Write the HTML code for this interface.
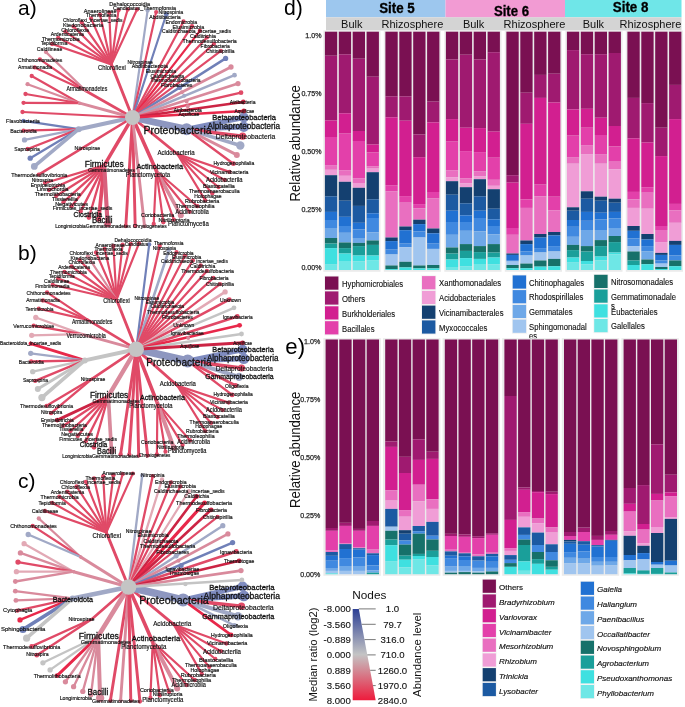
<!DOCTYPE html><html><head><meta charset="utf-8"><style>html,body{margin:0;padding:0;background:#fff;}svg{display:block;will-change:transform;}text{-webkit-font-smoothing:antialiased;}</style></head><body>
<svg width="685" height="707" viewBox="0 0 685 707" style="font-family:'Liberation Sans', sans-serif">
<rect x="0" y="0" width="685" height="707" fill="#ffffff"/>
<rect x="326" y="0" width="119.5" height="17.3" fill="#9dc7ee"/>
<rect x="445.5" y="0" width="119.5" height="17.5" fill="#f29bd3"/>
<rect x="565" y="0" width="116.5" height="17.3" fill="#6fe6e8"/>
<text x="397.0" y="12.9" font-size="13.8" text-anchor="middle" font-weight="bold" font-style="normal" fill="#000" textLength="35.6" lengthAdjust="spacingAndGlyphs" stroke="#000" stroke-width="0.3">Site 5</text>
<text x="511.5" y="15.6" font-size="13.8" text-anchor="middle" font-weight="bold" font-style="normal" fill="#000" textLength="35.1" lengthAdjust="spacingAndGlyphs" stroke="#000" stroke-width="0.3">Site 6</text>
<text x="630.6" y="12.3" font-size="13.8" text-anchor="middle" font-weight="bold" font-style="normal" fill="#000" textLength="35.6" lengthAdjust="spacingAndGlyphs" stroke="#000" stroke-width="0.3">Site 8</text>
<rect x="326" y="17.3" width="355.5" height="13.2" fill="#d4d4d4"/>
<text x="351.8" y="28.2" font-size="11.0" text-anchor="middle" font-weight="normal" font-style="normal" fill="#111" >Bulk</text>
<text x="412.4" y="28.2" font-size="11.0" text-anchor="middle" font-weight="normal" font-style="normal" fill="#111" >Rhizosphere</text>
<text x="473.6" y="28.2" font-size="11.0" text-anchor="middle" font-weight="normal" font-style="normal" fill="#111" >Bulk</text>
<text x="534.5" y="28.2" font-size="11.0" text-anchor="middle" font-weight="normal" font-style="normal" fill="#111" >Rhizosphere</text>
<text x="593.4" y="28.2" font-size="11.0" text-anchor="middle" font-weight="normal" font-style="normal" fill="#111" >Bulk</text>
<text x="650.5" y="28.2" font-size="11.0" text-anchor="middle" font-weight="normal" font-style="normal" fill="#111" >Rhizosphere</text>
<rect x="323.30" y="30.50" width="57.20" height="241.30" fill="#ebebeb"/>
<rect x="324.90" y="31.70" width="12.30" height="24.00" fill="#7a1052"/>
<rect x="324.90" y="55.70" width="12.30" height="64.80" fill="#9f1a70"/>
<rect x="324.90" y="120.50" width="12.30" height="16.50" fill="#d21f90"/>
<rect x="324.90" y="137.00" width="12.30" height="28.10" fill="#e340aa"/>
<rect x="324.90" y="165.10" width="12.30" height="4.70" fill="#e96fc0"/>
<rect x="324.90" y="169.80" width="12.30" height="5.40" fill="#f09dd6"/>
<rect x="324.90" y="175.20" width="12.30" height="21.10" fill="#144070"/>
<rect x="324.90" y="196.30" width="12.30" height="15.60" fill="#1c5aa2"/>
<rect x="324.90" y="211.90" width="12.30" height="8.10" fill="#2171d2"/>
<rect x="324.90" y="220.00" width="12.30" height="8.00" fill="#4089e0"/>
<rect x="324.90" y="228.00" width="12.30" height="10.00" fill="#6ea8e8"/>
<rect x="324.90" y="238.00" width="12.30" height="5.50" fill="#16716a"/>
<rect x="324.90" y="243.50" width="12.30" height="4.60" fill="#1a9f9a"/>
<rect x="324.90" y="248.10" width="12.30" height="16.50" fill="#3fe0e0"/>
<rect x="324.90" y="264.60" width="12.30" height="5.40" fill="#6ee7e6"/>
<rect x="338.80" y="31.70" width="12.30" height="22.60" fill="#7a1052"/>
<rect x="338.80" y="54.30" width="12.30" height="59.00" fill="#9f1a70"/>
<rect x="338.80" y="113.30" width="12.30" height="20.30" fill="#d21f90"/>
<rect x="338.80" y="133.60" width="12.30" height="36.60" fill="#e340aa"/>
<rect x="338.80" y="170.20" width="12.30" height="5.60" fill="#e96fc0"/>
<rect x="338.80" y="175.80" width="12.30" height="6.00" fill="#f09dd6"/>
<rect x="338.80" y="181.80" width="12.30" height="18.90" fill="#144070"/>
<rect x="338.80" y="200.70" width="12.30" height="16.10" fill="#1c5aa2"/>
<rect x="338.80" y="216.80" width="12.30" height="9.20" fill="#2171d2"/>
<rect x="338.80" y="226.00" width="12.30" height="6.80" fill="#4089e0"/>
<rect x="338.80" y="232.80" width="12.30" height="9.70" fill="#6ea8e8"/>
<rect x="338.80" y="242.50" width="12.30" height="5.60" fill="#16716a"/>
<rect x="338.80" y="248.10" width="12.30" height="5.40" fill="#1a9f9a"/>
<rect x="338.80" y="253.50" width="12.30" height="7.50" fill="#3fe0e0"/>
<rect x="338.80" y="261.00" width="12.30" height="9.00" fill="#6ee7e6"/>
<rect x="352.70" y="31.70" width="12.30" height="27.00" fill="#7a1052"/>
<rect x="352.70" y="58.70" width="12.30" height="72.30" fill="#9f1a70"/>
<rect x="352.70" y="131.00" width="12.30" height="10.00" fill="#d21f90"/>
<rect x="352.70" y="141.00" width="12.30" height="37.20" fill="#e340aa"/>
<rect x="352.70" y="178.20" width="12.30" height="4.80" fill="#e96fc0"/>
<rect x="352.70" y="183.00" width="12.30" height="4.80" fill="#f09dd6"/>
<rect x="352.70" y="187.80" width="12.30" height="18.10" fill="#144070"/>
<rect x="352.70" y="205.90" width="12.30" height="16.90" fill="#1c5aa2"/>
<rect x="352.70" y="222.80" width="12.30" height="6.60" fill="#2171d2"/>
<rect x="352.70" y="229.40" width="12.30" height="8.60" fill="#4089e0"/>
<rect x="352.70" y="238.00" width="12.30" height="4.90" fill="#6ea8e8"/>
<rect x="352.70" y="242.90" width="12.30" height="3.20" fill="#16716a"/>
<rect x="352.70" y="246.10" width="12.30" height="9.40" fill="#1a9f9a"/>
<rect x="352.70" y="255.50" width="12.30" height="6.00" fill="#3fe0e0"/>
<rect x="352.70" y="261.50" width="12.30" height="8.50" fill="#6ee7e6"/>
<rect x="366.60" y="31.70" width="12.30" height="45.00" fill="#7a1052"/>
<rect x="366.60" y="76.70" width="12.30" height="67.80" fill="#9f1a70"/>
<rect x="366.60" y="144.50" width="12.30" height="8.00" fill="#d21f90"/>
<rect x="366.60" y="152.50" width="12.30" height="13.70" fill="#e340aa"/>
<rect x="366.60" y="166.20" width="12.30" height="2.40" fill="#e96fc0"/>
<rect x="366.60" y="168.60" width="12.30" height="3.60" fill="#f09dd6"/>
<rect x="366.60" y="172.20" width="12.30" height="27.10" fill="#144070"/>
<rect x="366.60" y="199.30" width="12.30" height="14.00" fill="#1c5aa2"/>
<rect x="366.60" y="213.30" width="12.30" height="4.70" fill="#2171d2"/>
<rect x="366.60" y="218.00" width="12.30" height="14.40" fill="#4089e0"/>
<rect x="366.60" y="232.40" width="12.30" height="8.10" fill="#6ea8e8"/>
<rect x="366.60" y="240.50" width="12.30" height="4.40" fill="#16716a"/>
<rect x="366.60" y="244.90" width="12.30" height="10.60" fill="#1a9f9a"/>
<rect x="366.60" y="255.50" width="12.30" height="4.60" fill="#3fe0e0"/>
<rect x="366.60" y="260.10" width="12.30" height="9.90" fill="#6ee7e6"/>
<rect x="383.80" y="30.50" width="57.20" height="241.30" fill="#ebebeb"/>
<rect x="385.40" y="31.70" width="12.30" height="64.60" fill="#7a1052"/>
<rect x="385.40" y="96.30" width="12.30" height="21.00" fill="#9f1a70"/>
<rect x="385.40" y="117.30" width="12.30" height="67.90" fill="#d21f90"/>
<rect x="385.40" y="185.20" width="12.30" height="6.00" fill="#e340aa"/>
<rect x="385.40" y="191.20" width="12.30" height="46.30" fill="#e96fc0"/>
<rect x="385.40" y="237.50" width="12.30" height="3.60" fill="#144070"/>
<rect x="385.40" y="241.10" width="12.30" height="8.50" fill="#2171d2"/>
<rect x="385.40" y="249.60" width="12.30" height="4.90" fill="#4089e0"/>
<rect x="385.40" y="254.50" width="12.30" height="11.00" fill="#a0c5ef"/>
<rect x="385.40" y="265.50" width="12.30" height="3.60" fill="#16716a"/>
<rect x="385.40" y="269.10" width="12.30" height="0.90" fill="#3fe0e0"/>
<rect x="399.30" y="31.70" width="12.30" height="64.60" fill="#7a1052"/>
<rect x="399.30" y="96.30" width="12.30" height="24.40" fill="#9f1a70"/>
<rect x="399.30" y="120.70" width="12.30" height="75.40" fill="#d21f90"/>
<rect x="399.30" y="196.10" width="12.30" height="6.60" fill="#e340aa"/>
<rect x="399.30" y="202.70" width="12.30" height="23.80" fill="#e96fc0"/>
<rect x="399.30" y="226.50" width="12.30" height="3.70" fill="#144070"/>
<rect x="399.30" y="230.20" width="12.30" height="13.40" fill="#2171d2"/>
<rect x="399.30" y="243.60" width="12.30" height="3.60" fill="#4089e0"/>
<rect x="399.30" y="247.20" width="12.30" height="14.60" fill="#a0c5ef"/>
<rect x="399.30" y="261.80" width="12.30" height="5.60" fill="#16716a"/>
<rect x="399.30" y="267.40" width="12.30" height="2.60" fill="#3fe0e0"/>
<rect x="413.20" y="31.70" width="12.30" height="102.80" fill="#7a1052"/>
<rect x="413.20" y="134.50" width="12.30" height="22.70" fill="#9f1a70"/>
<rect x="413.20" y="157.20" width="12.30" height="46.90" fill="#d21f90"/>
<rect x="413.20" y="204.10" width="12.30" height="4.20" fill="#e340aa"/>
<rect x="413.20" y="208.30" width="12.30" height="11.40" fill="#e96fc0"/>
<rect x="413.20" y="219.70" width="12.30" height="4.40" fill="#144070"/>
<rect x="413.20" y="224.10" width="12.30" height="7.30" fill="#2171d2"/>
<rect x="413.20" y="231.40" width="12.30" height="6.10" fill="#4089e0"/>
<rect x="413.20" y="237.50" width="12.30" height="28.00" fill="#a0c5ef"/>
<rect x="413.20" y="265.50" width="12.30" height="2.90" fill="#16716a"/>
<rect x="413.20" y="268.40" width="12.30" height="1.60" fill="#3fe0e0"/>
<rect x="427.10" y="31.70" width="12.30" height="69.90" fill="#7a1052"/>
<rect x="427.10" y="101.60" width="12.30" height="20.80" fill="#9f1a70"/>
<rect x="427.10" y="122.40" width="12.30" height="69.60" fill="#d21f90"/>
<rect x="427.10" y="192.00" width="12.30" height="6.50" fill="#e340aa"/>
<rect x="427.10" y="198.50" width="12.30" height="30.00" fill="#e96fc0"/>
<rect x="427.10" y="228.50" width="12.30" height="4.80" fill="#144070"/>
<rect x="427.10" y="233.30" width="12.30" height="10.30" fill="#2171d2"/>
<rect x="427.10" y="243.60" width="12.30" height="5.30" fill="#4089e0"/>
<rect x="427.10" y="248.90" width="12.30" height="16.10" fill="#a0c5ef"/>
<rect x="427.10" y="265.00" width="12.30" height="3.40" fill="#16716a"/>
<rect x="427.10" y="268.40" width="12.30" height="1.60" fill="#3fe0e0"/>
<rect x="444.30" y="30.50" width="57.20" height="241.30" fill="#ebebeb"/>
<rect x="445.90" y="31.70" width="12.30" height="27.70" fill="#7a1052"/>
<rect x="445.90" y="59.40" width="12.30" height="59.70" fill="#9f1a70"/>
<rect x="445.90" y="119.10" width="12.30" height="22.50" fill="#d21f90"/>
<rect x="445.90" y="141.60" width="12.30" height="28.60" fill="#e340aa"/>
<rect x="445.90" y="170.20" width="12.30" height="7.00" fill="#e96fc0"/>
<rect x="445.90" y="177.20" width="12.30" height="4.00" fill="#f09dd6"/>
<rect x="445.90" y="181.20" width="12.30" height="13.50" fill="#144070"/>
<rect x="445.90" y="194.70" width="12.30" height="16.00" fill="#1c5aa2"/>
<rect x="445.90" y="210.70" width="12.30" height="11.30" fill="#2171d2"/>
<rect x="445.90" y="222.00" width="12.30" height="12.80" fill="#4089e0"/>
<rect x="445.90" y="234.80" width="12.30" height="12.70" fill="#6ea8e8"/>
<rect x="445.90" y="247.50" width="12.30" height="6.00" fill="#16716a"/>
<rect x="445.90" y="253.50" width="12.30" height="6.00" fill="#1a9f9a"/>
<rect x="445.90" y="259.50" width="12.30" height="7.50" fill="#3fe0e0"/>
<rect x="445.90" y="267.00" width="12.30" height="3.00" fill="#6ee7e6"/>
<rect x="459.80" y="31.70" width="12.30" height="23.00" fill="#7a1052"/>
<rect x="459.80" y="54.70" width="12.30" height="73.00" fill="#9f1a70"/>
<rect x="459.80" y="127.70" width="12.30" height="23.40" fill="#d21f90"/>
<rect x="459.80" y="151.10" width="12.30" height="27.10" fill="#e340aa"/>
<rect x="459.80" y="178.20" width="12.30" height="5.00" fill="#e96fc0"/>
<rect x="459.80" y="183.20" width="12.30" height="4.00" fill="#f09dd6"/>
<rect x="459.80" y="187.20" width="12.30" height="16.10" fill="#144070"/>
<rect x="459.80" y="203.30" width="12.30" height="12.10" fill="#1c5aa2"/>
<rect x="459.80" y="215.40" width="12.30" height="6.60" fill="#2171d2"/>
<rect x="459.80" y="222.00" width="12.30" height="8.80" fill="#4089e0"/>
<rect x="459.80" y="230.80" width="12.30" height="13.30" fill="#6ea8e8"/>
<rect x="459.80" y="244.10" width="12.30" height="6.80" fill="#16716a"/>
<rect x="459.80" y="250.90" width="12.30" height="7.20" fill="#1a9f9a"/>
<rect x="459.80" y="258.10" width="12.30" height="8.10" fill="#3fe0e0"/>
<rect x="459.80" y="266.20" width="12.30" height="3.80" fill="#6ee7e6"/>
<rect x="473.70" y="31.70" width="12.30" height="27.70" fill="#7a1052"/>
<rect x="473.70" y="59.40" width="12.30" height="68.70" fill="#9f1a70"/>
<rect x="473.70" y="128.10" width="12.30" height="24.00" fill="#d21f90"/>
<rect x="473.70" y="152.10" width="12.30" height="19.10" fill="#e340aa"/>
<rect x="473.70" y="171.20" width="12.30" height="5.00" fill="#e96fc0"/>
<rect x="473.70" y="176.20" width="12.30" height="3.00" fill="#f09dd6"/>
<rect x="473.70" y="179.20" width="12.30" height="17.10" fill="#144070"/>
<rect x="473.70" y="196.30" width="12.30" height="14.40" fill="#1c5aa2"/>
<rect x="473.70" y="210.70" width="12.30" height="7.30" fill="#2171d2"/>
<rect x="473.70" y="218.00" width="12.30" height="13.40" fill="#4089e0"/>
<rect x="473.70" y="231.40" width="12.30" height="14.70" fill="#6ea8e8"/>
<rect x="473.70" y="246.10" width="12.30" height="6.00" fill="#16716a"/>
<rect x="473.70" y="252.10" width="12.30" height="6.80" fill="#1a9f9a"/>
<rect x="473.70" y="258.90" width="12.30" height="5.10" fill="#3fe0e0"/>
<rect x="473.70" y="264.00" width="12.30" height="6.00" fill="#6ee7e6"/>
<rect x="487.60" y="31.70" width="12.30" height="20.50" fill="#7a1052"/>
<rect x="487.60" y="52.20" width="12.30" height="79.40" fill="#9f1a70"/>
<rect x="487.60" y="131.60" width="12.30" height="26.10" fill="#d21f90"/>
<rect x="487.60" y="157.70" width="12.30" height="22.10" fill="#e340aa"/>
<rect x="487.60" y="179.80" width="12.30" height="6.00" fill="#e96fc0"/>
<rect x="487.60" y="185.80" width="12.30" height="3.40" fill="#f09dd6"/>
<rect x="487.60" y="189.20" width="12.30" height="19.50" fill="#144070"/>
<rect x="487.60" y="208.70" width="12.30" height="10.70" fill="#1c5aa2"/>
<rect x="487.60" y="219.40" width="12.30" height="6.60" fill="#2171d2"/>
<rect x="487.60" y="226.00" width="12.30" height="8.40" fill="#4089e0"/>
<rect x="487.60" y="234.40" width="12.30" height="9.70" fill="#6ea8e8"/>
<rect x="487.60" y="244.10" width="12.30" height="8.40" fill="#16716a"/>
<rect x="487.60" y="252.50" width="12.30" height="5.00" fill="#1a9f9a"/>
<rect x="487.60" y="257.50" width="12.30" height="6.70" fill="#3fe0e0"/>
<rect x="487.60" y="264.20" width="12.30" height="5.80" fill="#6ee7e6"/>
<rect x="504.80" y="30.50" width="57.20" height="241.30" fill="#ebebeb"/>
<rect x="506.40" y="31.70" width="12.30" height="143.50" fill="#7a1052"/>
<rect x="506.40" y="175.20" width="12.30" height="7.40" fill="#9f1a70"/>
<rect x="506.40" y="182.60" width="12.30" height="45.40" fill="#d21f90"/>
<rect x="506.40" y="228.00" width="12.30" height="6.80" fill="#e340aa"/>
<rect x="506.40" y="234.80" width="12.30" height="18.70" fill="#e96fc0"/>
<rect x="506.40" y="253.50" width="12.30" height="1.40" fill="#144070"/>
<rect x="506.40" y="254.90" width="12.30" height="5.20" fill="#2171d2"/>
<rect x="506.40" y="260.10" width="12.30" height="1.40" fill="#4089e0"/>
<rect x="506.40" y="261.50" width="12.30" height="3.50" fill="#a0c5ef"/>
<rect x="506.40" y="265.00" width="12.30" height="3.20" fill="#16716a"/>
<rect x="506.40" y="268.20" width="12.30" height="1.80" fill="#3fe0e0"/>
<rect x="520.30" y="31.70" width="12.30" height="61.00" fill="#7a1052"/>
<rect x="520.30" y="92.70" width="12.30" height="31.10" fill="#9f1a70"/>
<rect x="520.30" y="123.80" width="12.30" height="75.50" fill="#d21f90"/>
<rect x="520.30" y="199.30" width="12.30" height="8.60" fill="#e340aa"/>
<rect x="520.30" y="207.90" width="12.30" height="32.60" fill="#e96fc0"/>
<rect x="520.30" y="240.50" width="12.30" height="3.60" fill="#144070"/>
<rect x="520.30" y="244.10" width="12.30" height="7.40" fill="#2171d2"/>
<rect x="520.30" y="251.50" width="12.30" height="4.00" fill="#4089e0"/>
<rect x="520.30" y="255.50" width="12.30" height="8.10" fill="#a0c5ef"/>
<rect x="520.30" y="263.60" width="12.30" height="4.60" fill="#16716a"/>
<rect x="520.30" y="268.20" width="12.30" height="1.80" fill="#3fe0e0"/>
<rect x="534.20" y="31.70" width="12.30" height="43.20" fill="#7a1052"/>
<rect x="534.20" y="74.90" width="12.30" height="23.00" fill="#9f1a70"/>
<rect x="534.20" y="97.90" width="12.30" height="86.70" fill="#d21f90"/>
<rect x="534.20" y="184.60" width="12.30" height="11.70" fill="#e340aa"/>
<rect x="534.20" y="196.30" width="12.30" height="37.70" fill="#e96fc0"/>
<rect x="534.20" y="234.00" width="12.30" height="3.50" fill="#144070"/>
<rect x="534.20" y="237.50" width="12.30" height="10.60" fill="#2171d2"/>
<rect x="534.20" y="248.10" width="12.30" height="4.40" fill="#4089e0"/>
<rect x="534.20" y="252.50" width="12.30" height="8.00" fill="#a0c5ef"/>
<rect x="534.20" y="260.50" width="12.30" height="6.10" fill="#16716a"/>
<rect x="534.20" y="266.60" width="12.30" height="3.40" fill="#3fe0e0"/>
<rect x="548.10" y="31.70" width="12.30" height="42.00" fill="#7a1052"/>
<rect x="548.10" y="73.70" width="12.30" height="28.80" fill="#9f1a70"/>
<rect x="548.10" y="102.50" width="12.30" height="94.20" fill="#d21f90"/>
<rect x="548.10" y="196.70" width="12.30" height="13.60" fill="#e340aa"/>
<rect x="548.10" y="210.30" width="12.30" height="21.70" fill="#e96fc0"/>
<rect x="548.10" y="232.00" width="12.30" height="3.40" fill="#144070"/>
<rect x="548.10" y="235.40" width="12.30" height="10.70" fill="#2171d2"/>
<rect x="548.10" y="246.10" width="12.30" height="5.40" fill="#4089e0"/>
<rect x="548.10" y="251.50" width="12.30" height="7.40" fill="#a0c5ef"/>
<rect x="548.10" y="258.90" width="12.30" height="7.30" fill="#16716a"/>
<rect x="548.10" y="266.20" width="12.30" height="3.80" fill="#3fe0e0"/>
<rect x="565.30" y="30.50" width="57.20" height="241.30" fill="#ebebeb"/>
<rect x="566.90" y="31.70" width="12.30" height="18.40" fill="#7a1052"/>
<rect x="566.90" y="50.10" width="12.30" height="59.30" fill="#9f1a70"/>
<rect x="566.90" y="109.40" width="12.30" height="26.20" fill="#d21f90"/>
<rect x="566.90" y="135.60" width="12.30" height="21.50" fill="#e340aa"/>
<rect x="566.90" y="157.10" width="12.30" height="6.60" fill="#e96fc0"/>
<rect x="566.90" y="163.70" width="12.30" height="43.60" fill="#f09dd6"/>
<rect x="566.90" y="207.30" width="12.30" height="3.40" fill="#144070"/>
<rect x="566.90" y="210.70" width="12.30" height="9.30" fill="#1c5aa2"/>
<rect x="566.90" y="220.00" width="12.30" height="6.80" fill="#2171d2"/>
<rect x="566.90" y="226.80" width="12.30" height="10.00" fill="#4089e0"/>
<rect x="566.90" y="236.80" width="12.30" height="8.10" fill="#6ea8e8"/>
<rect x="566.90" y="244.90" width="12.30" height="5.20" fill="#16716a"/>
<rect x="566.90" y="250.10" width="12.30" height="7.40" fill="#1a9f9a"/>
<rect x="566.90" y="257.50" width="12.30" height="5.10" fill="#3fe0e0"/>
<rect x="566.90" y="262.60" width="12.30" height="7.40" fill="#6ee7e6"/>
<rect x="580.80" y="31.70" width="12.30" height="22.50" fill="#7a1052"/>
<rect x="580.80" y="54.20" width="12.30" height="54.60" fill="#9f1a70"/>
<rect x="580.80" y="108.80" width="12.30" height="18.90" fill="#d21f90"/>
<rect x="580.80" y="127.70" width="12.30" height="17.40" fill="#e340aa"/>
<rect x="580.80" y="145.10" width="12.30" height="9.00" fill="#e96fc0"/>
<rect x="580.80" y="154.10" width="12.30" height="37.20" fill="#f09dd6"/>
<rect x="580.80" y="191.30" width="12.30" height="7.40" fill="#144070"/>
<rect x="580.80" y="198.70" width="12.30" height="13.20" fill="#1c5aa2"/>
<rect x="580.80" y="211.90" width="12.30" height="8.90" fill="#2171d2"/>
<rect x="580.80" y="220.80" width="12.30" height="9.20" fill="#4089e0"/>
<rect x="580.80" y="230.00" width="12.30" height="16.10" fill="#6ea8e8"/>
<rect x="580.80" y="246.10" width="12.30" height="5.40" fill="#16716a"/>
<rect x="580.80" y="251.50" width="12.30" height="9.50" fill="#1a9f9a"/>
<rect x="580.80" y="261.00" width="12.30" height="3.20" fill="#3fe0e0"/>
<rect x="580.80" y="264.20" width="12.30" height="5.80" fill="#6ee7e6"/>
<rect x="594.70" y="31.70" width="12.30" height="22.50" fill="#7a1052"/>
<rect x="594.70" y="54.20" width="12.30" height="63.50" fill="#9f1a70"/>
<rect x="594.70" y="117.70" width="12.30" height="17.30" fill="#d21f90"/>
<rect x="594.70" y="135.00" width="12.30" height="19.10" fill="#e340aa"/>
<rect x="594.70" y="154.10" width="12.30" height="9.60" fill="#e96fc0"/>
<rect x="594.70" y="163.70" width="12.30" height="33.00" fill="#f09dd6"/>
<rect x="594.70" y="196.70" width="12.30" height="4.00" fill="#144070"/>
<rect x="594.70" y="200.70" width="12.30" height="12.00" fill="#1c5aa2"/>
<rect x="594.70" y="212.70" width="12.30" height="6.70" fill="#2171d2"/>
<rect x="594.70" y="219.40" width="12.30" height="10.60" fill="#4089e0"/>
<rect x="594.70" y="230.00" width="12.30" height="10.10" fill="#6ea8e8"/>
<rect x="594.70" y="240.10" width="12.30" height="6.00" fill="#16716a"/>
<rect x="594.70" y="246.10" width="12.30" height="10.40" fill="#1a9f9a"/>
<rect x="594.70" y="256.50" width="12.30" height="4.00" fill="#3fe0e0"/>
<rect x="594.70" y="260.50" width="12.30" height="9.50" fill="#6ee7e6"/>
<rect x="608.60" y="31.70" width="12.30" height="21.30" fill="#7a1052"/>
<rect x="608.60" y="53.00" width="12.30" height="73.00" fill="#9f1a70"/>
<rect x="608.60" y="126.00" width="12.30" height="20.50" fill="#d21f90"/>
<rect x="608.60" y="146.50" width="12.30" height="15.20" fill="#e340aa"/>
<rect x="608.60" y="161.70" width="12.30" height="7.50" fill="#e96fc0"/>
<rect x="608.60" y="169.20" width="12.30" height="29.50" fill="#f09dd6"/>
<rect x="608.60" y="198.70" width="12.30" height="4.00" fill="#144070"/>
<rect x="608.60" y="202.70" width="12.30" height="9.20" fill="#1c5aa2"/>
<rect x="608.60" y="211.90" width="12.30" height="6.50" fill="#2171d2"/>
<rect x="608.60" y="218.40" width="12.30" height="9.60" fill="#4089e0"/>
<rect x="608.60" y="228.00" width="12.30" height="8.00" fill="#6ea8e8"/>
<rect x="608.60" y="236.00" width="12.30" height="6.10" fill="#16716a"/>
<rect x="608.60" y="242.10" width="12.30" height="10.40" fill="#1a9f9a"/>
<rect x="608.60" y="252.50" width="12.30" height="2.00" fill="#3fe0e0"/>
<rect x="608.60" y="254.50" width="12.30" height="15.50" fill="#6ee7e6"/>
<rect x="625.80" y="30.50" width="57.20" height="241.30" fill="#ebebeb"/>
<rect x="627.40" y="31.70" width="12.30" height="66.20" fill="#7a1052"/>
<rect x="627.40" y="97.90" width="12.30" height="40.50" fill="#9f1a70"/>
<rect x="627.40" y="138.40" width="12.30" height="53.50" fill="#d21f90"/>
<rect x="627.40" y="191.90" width="12.30" height="7.40" fill="#e340aa"/>
<rect x="627.40" y="199.30" width="12.30" height="8.60" fill="#e96fc0"/>
<rect x="627.40" y="207.90" width="12.30" height="18.10" fill="#f09dd6"/>
<rect x="627.40" y="226.00" width="12.30" height="4.80" fill="#144070"/>
<rect x="627.40" y="230.80" width="12.30" height="7.70" fill="#2171d2"/>
<rect x="627.40" y="238.50" width="12.30" height="7.60" fill="#4089e0"/>
<rect x="627.40" y="246.10" width="12.30" height="5.40" fill="#a0c5ef"/>
<rect x="627.40" y="251.50" width="12.30" height="9.00" fill="#16716a"/>
<rect x="627.40" y="260.50" width="12.30" height="4.50" fill="#1a9f9a"/>
<rect x="627.40" y="265.00" width="12.30" height="5.00" fill="#3fe0e0"/>
<rect x="641.30" y="31.70" width="12.30" height="71.40" fill="#7a1052"/>
<rect x="641.30" y="103.10" width="12.30" height="39.40" fill="#9f1a70"/>
<rect x="641.30" y="142.50" width="12.30" height="44.70" fill="#d21f90"/>
<rect x="641.30" y="187.20" width="12.30" height="5.50" fill="#e340aa"/>
<rect x="641.30" y="192.70" width="12.30" height="16.00" fill="#e96fc0"/>
<rect x="641.30" y="208.70" width="12.30" height="25.30" fill="#f09dd6"/>
<rect x="641.30" y="234.00" width="12.30" height="5.50" fill="#144070"/>
<rect x="641.30" y="239.50" width="12.30" height="6.60" fill="#2171d2"/>
<rect x="641.30" y="246.10" width="12.30" height="5.40" fill="#4089e0"/>
<rect x="641.30" y="251.50" width="12.30" height="8.00" fill="#6ea8e8"/>
<rect x="641.30" y="259.50" width="12.30" height="4.70" fill="#16716a"/>
<rect x="641.30" y="264.20" width="12.30" height="5.80" fill="#3fe0e0"/>
<rect x="655.20" y="31.70" width="12.30" height="96.00" fill="#7a1052"/>
<rect x="655.20" y="127.70" width="12.30" height="28.40" fill="#9f1a70"/>
<rect x="655.20" y="156.10" width="12.30" height="69.90" fill="#d21f90"/>
<rect x="655.20" y="226.00" width="12.30" height="4.00" fill="#e340aa"/>
<rect x="655.20" y="230.00" width="12.30" height="12.10" fill="#e96fc0"/>
<rect x="655.20" y="242.10" width="12.30" height="10.80" fill="#f09dd6"/>
<rect x="655.20" y="252.90" width="12.30" height="2.00" fill="#144070"/>
<rect x="655.20" y="254.90" width="12.30" height="5.60" fill="#2171d2"/>
<rect x="655.20" y="260.50" width="12.30" height="3.10" fill="#4089e0"/>
<rect x="655.20" y="263.60" width="12.30" height="3.40" fill="#a0c5ef"/>
<rect x="655.20" y="267.00" width="12.30" height="2.00" fill="#16716a"/>
<rect x="655.20" y="269.00" width="12.30" height="1.00" fill="#3fe0e0"/>
<rect x="669.10" y="31.70" width="12.30" height="53.20" fill="#7a1052"/>
<rect x="669.10" y="84.90" width="12.30" height="34.20" fill="#9f1a70"/>
<rect x="669.10" y="119.10" width="12.30" height="84.80" fill="#d21f90"/>
<rect x="669.10" y="203.90" width="12.30" height="6.40" fill="#e340aa"/>
<rect x="669.10" y="210.30" width="12.30" height="12.50" fill="#e96fc0"/>
<rect x="669.10" y="222.80" width="12.30" height="18.10" fill="#f09dd6"/>
<rect x="669.10" y="240.90" width="12.30" height="4.00" fill="#144070"/>
<rect x="669.10" y="244.90" width="12.30" height="10.60" fill="#2171d2"/>
<rect x="669.10" y="255.50" width="12.30" height="5.00" fill="#4089e0"/>
<rect x="669.10" y="260.50" width="12.30" height="5.70" fill="#16716a"/>
<rect x="669.10" y="266.20" width="12.30" height="3.80" fill="#3fe0e0"/>
<text x="321.5" y="37.5" font-size="7.9" text-anchor="end" font-weight="normal" font-style="normal" fill="#222" textLength="16.2" lengthAdjust="spacingAndGlyphs" stroke="#222" stroke-width="0.25">1.0%</text>
<text x="321.5" y="95.7" font-size="7.9" text-anchor="end" font-weight="normal" font-style="normal" fill="#222" textLength="20.1" lengthAdjust="spacingAndGlyphs" stroke="#222" stroke-width="0.25">0.75%</text>
<text x="321.5" y="153.9" font-size="7.9" text-anchor="end" font-weight="normal" font-style="normal" fill="#222" textLength="20.1" lengthAdjust="spacingAndGlyphs" stroke="#222" stroke-width="0.25">0.50%</text>
<text x="321.5" y="212.1" font-size="7.9" text-anchor="end" font-weight="normal" font-style="normal" fill="#222" textLength="20.1" lengthAdjust="spacingAndGlyphs" stroke="#222" stroke-width="0.25">0.25%</text>
<text x="321.5" y="270.3" font-size="7.9" text-anchor="end" font-weight="normal" font-style="normal" fill="#222" textLength="20.1" lengthAdjust="spacingAndGlyphs" stroke="#222" stroke-width="0.25">0.00%</text>
<text x="0.0" y="0.0" font-size="14" text-anchor="middle" font-weight="normal" font-style="normal" fill="#111" textLength="116.5" lengthAdjust="spacingAndGlyphs" transform="translate(300.1,143.3) rotate(-90)">Relative abundance</text>
<text x="284.0" y="15.4" font-size="21.2" text-anchor="start" font-weight="normal" font-style="normal" fill="#000" >d)</text>
<rect x="324.2" y="275.7" width="15" height="15" fill="#f2f2f2"/>
<rect x="325.0" y="276.5" width="13.4" height="13.2" fill="#7a1052"/>
<text x="342.0" y="286.8" font-size="8.4" text-anchor="start" font-weight="normal" font-style="normal" fill="#111" textLength="61.2" lengthAdjust="spacingAndGlyphs" stroke="#111" stroke-width="0.12">Hyphomicrobiales</text>
<rect x="324.2" y="290.6" width="15" height="15" fill="#f2f2f2"/>
<rect x="325.0" y="291.4" width="13.4" height="13.2" fill="#9f1a70"/>
<text x="342.0" y="301.7" font-size="8.4" text-anchor="start" font-weight="normal" font-style="normal" fill="#111" textLength="23.1" lengthAdjust="spacingAndGlyphs" stroke="#111" stroke-width="0.12">Others</text>
<rect x="324.2" y="305.5" width="15" height="15" fill="#f2f2f2"/>
<rect x="325.0" y="306.3" width="13.4" height="13.2" fill="#d21f90"/>
<text x="342.0" y="316.6" font-size="8.4" text-anchor="start" font-weight="normal" font-style="normal" fill="#111" textLength="53.1" lengthAdjust="spacingAndGlyphs" stroke="#111" stroke-width="0.12">Burkholderiales</text>
<rect x="324.2" y="320.4" width="15" height="15" fill="#f2f2f2"/>
<rect x="325.0" y="321.2" width="13.4" height="13.2" fill="#e340aa"/>
<text x="342.0" y="331.5" font-size="8.4" text-anchor="start" font-weight="normal" font-style="normal" fill="#111" textLength="32.5" lengthAdjust="spacingAndGlyphs" stroke="#111" stroke-width="0.12">Bacillales</text>
<rect x="421.2" y="275.3" width="15" height="15" fill="#f2f2f2"/>
<rect x="422.0" y="276.1" width="13.4" height="13.2" fill="#e96fc0"/>
<text x="439.0" y="286.4" font-size="8.4" text-anchor="start" font-weight="normal" font-style="normal" fill="#111" textLength="62.1" lengthAdjust="spacingAndGlyphs" stroke="#111" stroke-width="0.12">Xanthomonadales</text>
<rect x="421.2" y="290.1" width="15" height="15" fill="#f2f2f2"/>
<rect x="422.0" y="290.9" width="13.4" height="13.2" fill="#f09dd6"/>
<text x="439.0" y="301.2" font-size="8.4" text-anchor="start" font-weight="normal" font-style="normal" fill="#111" textLength="56.5" lengthAdjust="spacingAndGlyphs" stroke="#111" stroke-width="0.12">Acidobacteriales</text>
<rect x="421.2" y="304.8" width="15" height="15" fill="#f2f2f2"/>
<rect x="422.0" y="305.6" width="13.4" height="13.2" fill="#144070"/>
<text x="439.0" y="315.9" font-size="8.4" text-anchor="start" font-weight="normal" font-style="normal" fill="#111" textLength="64.5" lengthAdjust="spacingAndGlyphs" stroke="#111" stroke-width="0.12">Vicinamibacterales</text>
<rect x="421.2" y="319.6" width="15" height="15" fill="#f2f2f2"/>
<rect x="422.0" y="320.4" width="13.4" height="13.2" fill="#1c5aa2"/>
<text x="439.0" y="330.7" font-size="8.4" text-anchor="start" font-weight="normal" font-style="normal" fill="#111" textLength="48.4" lengthAdjust="spacingAndGlyphs" stroke="#111" stroke-width="0.12">Myxococcales</text>
<rect x="511.9" y="274.6" width="15" height="15" fill="#f2f2f2"/>
<rect x="512.7" y="275.4" width="13.4" height="13.2" fill="#2171d2"/>
<text x="529.0" y="285.7" font-size="8.4" text-anchor="start" font-weight="normal" font-style="normal" fill="#111" textLength="55.2" lengthAdjust="spacingAndGlyphs" stroke="#111" stroke-width="0.12">Chitinophagales</text>
<rect x="511.9" y="289.3" width="15" height="15" fill="#f2f2f2"/>
<rect x="512.7" y="290.1" width="13.4" height="13.2" fill="#4089e0"/>
<text x="529.0" y="300.4" font-size="8.4" text-anchor="start" font-weight="normal" font-style="normal" fill="#111" textLength="54.4" lengthAdjust="spacingAndGlyphs" stroke="#111" stroke-width="0.12">Rhodospirillales</text>
<rect x="511.9" y="304.1" width="15" height="15" fill="#f2f2f2"/>
<rect x="512.7" y="304.9" width="13.4" height="13.2" fill="#6ea8e8"/>
<text x="529.0" y="315.2" font-size="8.4" text-anchor="start" font-weight="normal" font-style="normal" fill="#111" textLength="43.6" lengthAdjust="spacingAndGlyphs" stroke="#111" stroke-width="0.12">Gemmatales</text>
<rect x="511.9" y="318.8" width="15" height="15" fill="#f2f2f2"/>
<rect x="512.7" y="319.6" width="13.4" height="13.2" fill="#a0c5ef"/>
<text x="529.0" y="329.9" font-size="8.4" text-anchor="start" font-weight="normal" font-style="normal" fill="#111" textLength="57.8" lengthAdjust="spacingAndGlyphs" stroke="#111" stroke-width="0.12">Sphingomonadal</text>
<text x="529.0" y="338.6" font-size="8.4" text-anchor="start" font-weight="normal" font-style="normal" fill="#111" textLength="8.1" lengthAdjust="spacingAndGlyphs" stroke="#111" stroke-width="0.12">es</text>
<rect x="593.4" y="274.0" width="15" height="15" fill="#f2f2f2"/>
<rect x="594.2" y="274.8" width="13.4" height="13.2" fill="#16716a"/>
<text x="611.0" y="285.1" font-size="8.4" text-anchor="start" font-weight="normal" font-style="normal" fill="#111" textLength="62.1" lengthAdjust="spacingAndGlyphs" stroke="#111" stroke-width="0.12">Nitrosomonadales</text>
<rect x="593.4" y="288.7" width="15" height="15" fill="#f2f2f2"/>
<rect x="594.2" y="289.5" width="13.4" height="13.2" fill="#1a9f9a"/>
<text x="611.0" y="299.8" font-size="8.4" text-anchor="start" font-weight="normal" font-style="normal" fill="#111" textLength="65.0" lengthAdjust="spacingAndGlyphs" stroke="#111" stroke-width="0.12">Gemmatimonadale</text>
<text x="611.0" y="308.5" font-size="8.4" text-anchor="start" font-weight="normal" font-style="normal" fill="#111" textLength="3.9" lengthAdjust="spacingAndGlyphs" stroke="#111" stroke-width="0.12">s</text>
<rect x="593.4" y="303.5" width="15" height="15" fill="#f2f2f2"/>
<rect x="594.2" y="304.3" width="13.4" height="13.2" fill="#3fe0e0"/>
<text x="611.0" y="314.6" font-size="8.4" text-anchor="start" font-weight="normal" font-style="normal" fill="#111" textLength="46.7" lengthAdjust="spacingAndGlyphs" stroke="#111" stroke-width="0.12">Eubacteriales</text>
<rect x="593.4" y="318.2" width="15" height="15" fill="#f2f2f2"/>
<rect x="594.2" y="319.0" width="13.4" height="13.2" fill="#6ee7e6"/>
<text x="611.0" y="329.3" font-size="8.4" text-anchor="start" font-weight="normal" font-style="normal" fill="#111" textLength="33.8" lengthAdjust="spacingAndGlyphs" stroke="#111" stroke-width="0.12">Galellales</text>
<rect x="323.40" y="338.20" width="57.40" height="237.60" fill="#ebebeb"/>
<rect x="325.60" y="339.50" width="12.30" height="188.50" fill="#7a1052"/>
<rect x="325.60" y="528.00" width="12.30" height="2.80" fill="#9f1a70"/>
<rect x="325.60" y="530.80" width="12.30" height="19.40" fill="#e340aa"/>
<rect x="325.60" y="550.20" width="12.30" height="1.80" fill="#e96fc0"/>
<rect x="325.60" y="552.00" width="12.30" height="3.80" fill="#1c5aa2"/>
<rect x="325.60" y="555.80" width="12.30" height="4.90" fill="#2171d2"/>
<rect x="325.60" y="560.70" width="12.30" height="7.30" fill="#4089e0"/>
<rect x="325.60" y="568.00" width="12.30" height="2.90" fill="#6ea8e8"/>
<rect x="325.60" y="570.90" width="12.30" height="2.50" fill="#a0c5ef"/>
<rect x="325.60" y="573.40" width="12.30" height="0.80" fill="#3fe0e0"/>
<rect x="339.30" y="339.50" width="12.30" height="183.30" fill="#7a1052"/>
<rect x="339.30" y="522.80" width="12.30" height="3.10" fill="#9f1a70"/>
<rect x="339.30" y="525.90" width="12.30" height="17.60" fill="#e340aa"/>
<rect x="339.30" y="543.50" width="12.30" height="0.60" fill="#e96fc0"/>
<rect x="339.30" y="544.10" width="12.30" height="4.90" fill="#1c5aa2"/>
<rect x="339.30" y="549.00" width="12.30" height="9.10" fill="#2171d2"/>
<rect x="339.30" y="558.10" width="12.30" height="7.90" fill="#4089e0"/>
<rect x="339.30" y="566.00" width="12.30" height="4.90" fill="#6ea8e8"/>
<rect x="339.30" y="570.90" width="12.30" height="3.30" fill="#a0c5ef"/>
<rect x="353.00" y="339.50" width="12.30" height="189.40" fill="#7a1052"/>
<rect x="353.00" y="528.90" width="12.30" height="1.90" fill="#9f1a70"/>
<rect x="353.00" y="530.80" width="12.30" height="16.40" fill="#e340aa"/>
<rect x="353.00" y="547.20" width="12.30" height="1.00" fill="#e96fc0"/>
<rect x="353.00" y="548.20" width="12.30" height="1.40" fill="#1c5aa2"/>
<rect x="353.00" y="549.60" width="12.30" height="7.90" fill="#2171d2"/>
<rect x="353.00" y="557.50" width="12.30" height="8.50" fill="#4089e0"/>
<rect x="353.00" y="566.00" width="12.30" height="4.90" fill="#6ea8e8"/>
<rect x="353.00" y="570.90" width="12.30" height="3.30" fill="#a0c5ef"/>
<rect x="366.70" y="339.50" width="12.30" height="181.50" fill="#7a1052"/>
<rect x="366.70" y="521.00" width="12.30" height="4.90" fill="#9f1a70"/>
<rect x="366.70" y="525.90" width="12.30" height="23.70" fill="#e340aa"/>
<rect x="366.70" y="549.60" width="12.30" height="3.70" fill="#e96fc0"/>
<rect x="366.70" y="553.30" width="12.30" height="1.80" fill="#1c5aa2"/>
<rect x="366.70" y="555.10" width="12.30" height="10.30" fill="#2171d2"/>
<rect x="366.70" y="565.40" width="12.30" height="4.90" fill="#4089e0"/>
<rect x="366.70" y="570.30" width="12.30" height="2.40" fill="#6ea8e8"/>
<rect x="366.70" y="572.70" width="12.30" height="1.50" fill="#1a9f9a"/>
<rect x="383.00" y="338.20" width="57.40" height="237.60" fill="#ebebeb"/>
<rect x="385.20" y="339.50" width="12.30" height="101.90" fill="#7a1052"/>
<rect x="385.20" y="441.40" width="12.30" height="5.50" fill="#9f1a70"/>
<rect x="385.20" y="446.90" width="12.30" height="43.40" fill="#d21f90"/>
<rect x="385.20" y="490.30" width="12.30" height="10.30" fill="#e96fc0"/>
<rect x="385.20" y="500.60" width="12.30" height="8.30" fill="#f09dd6"/>
<rect x="385.20" y="508.90" width="12.30" height="17.80" fill="#1c5aa2"/>
<rect x="385.20" y="526.70" width="12.30" height="4.10" fill="#a0c5ef"/>
<rect x="385.20" y="530.80" width="12.30" height="8.70" fill="#16716a"/>
<rect x="385.20" y="539.50" width="12.30" height="5.70" fill="#1a9f9a"/>
<rect x="385.20" y="545.20" width="12.30" height="15.90" fill="#3fe0e0"/>
<rect x="385.20" y="561.10" width="12.30" height="13.10" fill="#6ee7e6"/>
<rect x="398.90" y="339.50" width="12.30" height="117.30" fill="#7a1052"/>
<rect x="398.90" y="456.80" width="12.30" height="16.20" fill="#9f1a70"/>
<rect x="398.90" y="473.00" width="12.30" height="37.10" fill="#d21f90"/>
<rect x="398.90" y="510.10" width="12.30" height="6.60" fill="#e96fc0"/>
<rect x="398.90" y="516.70" width="12.30" height="13.50" fill="#f09dd6"/>
<rect x="398.90" y="530.20" width="12.30" height="3.50" fill="#144070"/>
<rect x="398.90" y="533.70" width="12.30" height="6.80" fill="#1c5aa2"/>
<rect x="398.90" y="540.50" width="12.30" height="4.10" fill="#4089e0"/>
<rect x="398.90" y="544.60" width="12.30" height="11.00" fill="#16716a"/>
<rect x="398.90" y="555.60" width="12.30" height="4.10" fill="#1a9f9a"/>
<rect x="398.90" y="559.70" width="12.30" height="7.60" fill="#3fe0e0"/>
<rect x="398.90" y="567.30" width="12.30" height="6.90" fill="#6ee7e6"/>
<rect x="412.60" y="339.50" width="12.30" height="99.80" fill="#7a1052"/>
<rect x="412.60" y="439.30" width="12.30" height="20.60" fill="#9f1a70"/>
<rect x="412.60" y="459.90" width="12.30" height="24.80" fill="#d21f90"/>
<rect x="412.60" y="484.70" width="12.30" height="16.60" fill="#e96fc0"/>
<rect x="412.60" y="501.30" width="12.30" height="24.70" fill="#f09dd6"/>
<rect x="412.60" y="526.00" width="12.30" height="5.20" fill="#1c5aa2"/>
<rect x="412.60" y="531.20" width="12.30" height="2.50" fill="#4089e0"/>
<rect x="412.60" y="533.70" width="12.30" height="20.20" fill="#16716a"/>
<rect x="412.60" y="553.90" width="12.30" height="2.10" fill="#1a9f9a"/>
<rect x="412.60" y="556.00" width="12.30" height="3.10" fill="#3fe0e0"/>
<rect x="412.60" y="559.10" width="12.30" height="15.10" fill="#6ee7e6"/>
<rect x="426.30" y="339.50" width="12.30" height="112.20" fill="#7a1052"/>
<rect x="426.30" y="451.70" width="12.30" height="7.20" fill="#9f1a70"/>
<rect x="426.30" y="458.90" width="12.30" height="40.30" fill="#d21f90"/>
<rect x="426.30" y="499.20" width="12.30" height="9.70" fill="#e96fc0"/>
<rect x="426.30" y="508.90" width="12.30" height="13.00" fill="#f09dd6"/>
<rect x="426.30" y="521.90" width="12.30" height="13.80" fill="#1c5aa2"/>
<rect x="426.30" y="535.70" width="12.30" height="3.80" fill="#4089e0"/>
<rect x="426.30" y="539.50" width="12.30" height="11.30" fill="#16716a"/>
<rect x="426.30" y="550.80" width="12.30" height="6.20" fill="#1a9f9a"/>
<rect x="426.30" y="557.00" width="12.30" height="8.30" fill="#3fe0e0"/>
<rect x="426.30" y="565.30" width="12.30" height="8.90" fill="#6ee7e6"/>
<rect x="442.60" y="338.20" width="57.40" height="237.60" fill="#ebebeb"/>
<rect x="444.80" y="339.50" width="12.30" height="194.30" fill="#7a1052"/>
<rect x="444.80" y="533.80" width="12.30" height="2.20" fill="#9f1a70"/>
<rect x="444.80" y="536.00" width="12.30" height="13.00" fill="#e340aa"/>
<rect x="444.80" y="549.00" width="12.30" height="2.40" fill="#e96fc0"/>
<rect x="444.80" y="551.40" width="12.30" height="4.30" fill="#1c5aa2"/>
<rect x="444.80" y="555.70" width="12.30" height="3.00" fill="#2171d2"/>
<rect x="444.80" y="558.70" width="12.30" height="7.90" fill="#4089e0"/>
<rect x="444.80" y="566.60" width="12.30" height="4.30" fill="#6ea8e8"/>
<rect x="444.80" y="570.90" width="12.30" height="1.80" fill="#a0c5ef"/>
<rect x="444.80" y="572.70" width="12.30" height="1.50" fill="#16716a"/>
<rect x="458.50" y="339.50" width="12.30" height="194.90" fill="#7a1052"/>
<rect x="458.50" y="534.40" width="12.30" height="2.40" fill="#9f1a70"/>
<rect x="458.50" y="536.80" width="12.30" height="15.20" fill="#e340aa"/>
<rect x="458.50" y="552.00" width="12.30" height="1.30" fill="#e96fc0"/>
<rect x="458.50" y="553.30" width="12.30" height="3.00" fill="#1c5aa2"/>
<rect x="458.50" y="556.30" width="12.30" height="3.70" fill="#2171d2"/>
<rect x="458.50" y="560.00" width="12.30" height="6.00" fill="#4089e0"/>
<rect x="458.50" y="566.00" width="12.30" height="4.90" fill="#6ea8e8"/>
<rect x="458.50" y="570.90" width="12.30" height="1.20" fill="#a0c5ef"/>
<rect x="458.50" y="572.10" width="12.30" height="2.10" fill="#16716a"/>
<rect x="472.20" y="339.50" width="12.30" height="196.70" fill="#7a1052"/>
<rect x="472.20" y="536.20" width="12.30" height="1.90" fill="#9f1a70"/>
<rect x="472.20" y="538.10" width="12.30" height="16.40" fill="#e340aa"/>
<rect x="472.20" y="554.50" width="12.30" height="1.80" fill="#e96fc0"/>
<rect x="472.20" y="556.30" width="12.30" height="4.30" fill="#1c5aa2"/>
<rect x="472.20" y="560.60" width="12.30" height="7.30" fill="#4089e0"/>
<rect x="472.20" y="567.90" width="12.30" height="3.40" fill="#6ea8e8"/>
<rect x="472.20" y="571.30" width="12.30" height="1.40" fill="#a0c5ef"/>
<rect x="472.20" y="572.70" width="12.30" height="1.50" fill="#16716a"/>
<rect x="485.90" y="339.50" width="12.30" height="193.70" fill="#7a1052"/>
<rect x="485.90" y="533.20" width="12.30" height="1.60" fill="#9f1a70"/>
<rect x="485.90" y="534.80" width="12.30" height="17.90" fill="#e340aa"/>
<rect x="485.90" y="552.70" width="12.30" height="1.20" fill="#e96fc0"/>
<rect x="485.90" y="553.90" width="12.30" height="2.40" fill="#1c5aa2"/>
<rect x="485.90" y="556.30" width="12.30" height="5.50" fill="#2171d2"/>
<rect x="485.90" y="561.80" width="12.30" height="6.10" fill="#4089e0"/>
<rect x="485.90" y="567.90" width="12.30" height="3.60" fill="#6ea8e8"/>
<rect x="485.90" y="571.50" width="12.30" height="2.70" fill="#16716a"/>
<rect x="502.20" y="338.20" width="57.40" height="237.60" fill="#ebebeb"/>
<rect x="504.40" y="339.50" width="12.30" height="56.50" fill="#7a1052"/>
<rect x="504.40" y="396.00" width="12.30" height="123.90" fill="#9f1a70"/>
<rect x="504.40" y="519.90" width="12.30" height="28.20" fill="#d21f90"/>
<rect x="504.40" y="548.10" width="12.30" height="2.80" fill="#e96fc0"/>
<rect x="504.40" y="550.90" width="12.30" height="4.20" fill="#f09dd6"/>
<rect x="504.40" y="555.10" width="12.30" height="4.70" fill="#1c5aa2"/>
<rect x="504.40" y="559.80" width="12.30" height="3.30" fill="#4089e0"/>
<rect x="504.40" y="563.10" width="12.30" height="3.70" fill="#16716a"/>
<rect x="504.40" y="566.80" width="12.30" height="7.40" fill="#3fe0e0"/>
<rect x="518.10" y="339.50" width="12.30" height="148.00" fill="#7a1052"/>
<rect x="518.10" y="487.50" width="12.30" height="2.30" fill="#9f1a70"/>
<rect x="518.10" y="489.80" width="12.30" height="22.30" fill="#d21f90"/>
<rect x="518.10" y="512.10" width="12.30" height="4.70" fill="#e96fc0"/>
<rect x="518.10" y="516.80" width="12.30" height="10.60" fill="#f09dd6"/>
<rect x="518.10" y="527.40" width="12.30" height="7.50" fill="#1c5aa2"/>
<rect x="518.10" y="534.90" width="12.30" height="4.70" fill="#4089e0"/>
<rect x="518.10" y="539.60" width="12.30" height="5.40" fill="#16716a"/>
<rect x="518.10" y="545.00" width="12.30" height="16.40" fill="#1a9f9a"/>
<rect x="518.10" y="561.40" width="12.30" height="9.40" fill="#3fe0e0"/>
<rect x="518.10" y="570.80" width="12.30" height="3.40" fill="#6ee7e6"/>
<rect x="531.80" y="339.50" width="12.30" height="151.50" fill="#7a1052"/>
<rect x="531.80" y="491.00" width="12.30" height="1.20" fill="#9f1a70"/>
<rect x="531.80" y="492.20" width="12.30" height="26.30" fill="#d21f90"/>
<rect x="531.80" y="518.50" width="12.30" height="4.70" fill="#e96fc0"/>
<rect x="531.80" y="523.20" width="12.30" height="9.40" fill="#f09dd6"/>
<rect x="531.80" y="532.60" width="12.30" height="12.40" fill="#1c5aa2"/>
<rect x="531.80" y="545.00" width="12.30" height="7.00" fill="#4089e0"/>
<rect x="531.80" y="552.00" width="12.30" height="7.10" fill="#16716a"/>
<rect x="531.80" y="559.10" width="12.30" height="4.70" fill="#1a9f9a"/>
<rect x="531.80" y="563.80" width="12.30" height="10.40" fill="#3fe0e0"/>
<rect x="545.50" y="339.50" width="12.30" height="152.20" fill="#7a1052"/>
<rect x="545.50" y="491.70" width="12.30" height="2.40" fill="#9f1a70"/>
<rect x="545.50" y="494.10" width="12.30" height="33.30" fill="#d21f90"/>
<rect x="545.50" y="527.40" width="12.30" height="5.20" fill="#e96fc0"/>
<rect x="545.50" y="532.60" width="12.30" height="11.70" fill="#f09dd6"/>
<rect x="545.50" y="544.30" width="12.30" height="7.70" fill="#1c5aa2"/>
<rect x="545.50" y="552.00" width="12.30" height="8.30" fill="#4089e0"/>
<rect x="545.50" y="560.30" width="12.30" height="6.50" fill="#16716a"/>
<rect x="545.50" y="566.80" width="12.30" height="2.90" fill="#1a9f9a"/>
<rect x="545.50" y="569.70" width="12.30" height="4.50" fill="#3fe0e0"/>
<rect x="561.80" y="338.20" width="57.40" height="237.60" fill="#ebebeb"/>
<rect x="564.00" y="339.50" width="12.30" height="192.50" fill="#7a1052"/>
<rect x="564.00" y="532.00" width="12.30" height="4.00" fill="#9f1a70"/>
<rect x="564.00" y="536.00" width="12.30" height="3.90" fill="#e340aa"/>
<rect x="564.00" y="539.90" width="12.30" height="1.60" fill="#144070"/>
<rect x="564.00" y="541.50" width="12.30" height="2.30" fill="#1c5aa2"/>
<rect x="564.00" y="543.80" width="12.30" height="8.30" fill="#2171d2"/>
<rect x="564.00" y="552.10" width="12.30" height="5.70" fill="#4089e0"/>
<rect x="564.00" y="557.80" width="12.30" height="5.30" fill="#6ea8e8"/>
<rect x="564.00" y="563.10" width="12.30" height="11.10" fill="#a0c5ef"/>
<rect x="577.70" y="339.50" width="12.30" height="188.10" fill="#7a1052"/>
<rect x="577.70" y="527.60" width="12.30" height="4.40" fill="#9f1a70"/>
<rect x="577.70" y="532.00" width="12.30" height="9.20" fill="#e340aa"/>
<rect x="577.70" y="541.20" width="12.30" height="3.50" fill="#1c5aa2"/>
<rect x="577.70" y="544.70" width="12.30" height="6.60" fill="#2171d2"/>
<rect x="577.70" y="551.30" width="12.30" height="7.40" fill="#4089e0"/>
<rect x="577.70" y="558.70" width="12.30" height="4.80" fill="#6ea8e8"/>
<rect x="577.70" y="563.50" width="12.30" height="10.70" fill="#a0c5ef"/>
<rect x="591.40" y="339.50" width="12.30" height="196.40" fill="#7a1052"/>
<rect x="591.40" y="535.90" width="12.30" height="4.00" fill="#9f1a70"/>
<rect x="591.40" y="539.90" width="12.30" height="5.20" fill="#e340aa"/>
<rect x="591.40" y="545.10" width="12.30" height="1.40" fill="#1c5aa2"/>
<rect x="591.40" y="546.50" width="12.30" height="10.50" fill="#2171d2"/>
<rect x="591.40" y="557.00" width="12.30" height="4.80" fill="#4089e0"/>
<rect x="591.40" y="561.80" width="12.30" height="3.90" fill="#6ea8e8"/>
<rect x="591.40" y="565.70" width="12.30" height="8.50" fill="#a0c5ef"/>
<rect x="605.10" y="339.50" width="12.30" height="191.50" fill="#7a1052"/>
<rect x="605.10" y="531.00" width="12.30" height="3.80" fill="#9f1a70"/>
<rect x="605.10" y="534.80" width="12.30" height="5.10" fill="#e340aa"/>
<rect x="605.10" y="539.90" width="12.30" height="0.90" fill="#1c5aa2"/>
<rect x="605.10" y="540.80" width="12.30" height="16.20" fill="#2171d2"/>
<rect x="605.10" y="557.00" width="12.30" height="4.80" fill="#4089e0"/>
<rect x="605.10" y="561.80" width="12.30" height="3.70" fill="#6ea8e8"/>
<rect x="605.10" y="565.50" width="12.30" height="8.70" fill="#a0c5ef"/>
<rect x="621.40" y="338.20" width="57.40" height="237.60" fill="#ebebeb"/>
<rect x="623.60" y="339.50" width="12.30" height="148.50" fill="#7a1052"/>
<rect x="623.60" y="488.00" width="12.30" height="15.80" fill="#9f1a70"/>
<rect x="623.60" y="503.80" width="12.30" height="7.80" fill="#d21f90"/>
<rect x="623.60" y="511.60" width="12.30" height="19.80" fill="#e96fc0"/>
<rect x="623.60" y="531.40" width="12.30" height="4.40" fill="#f09dd6"/>
<rect x="623.60" y="535.80" width="12.30" height="19.20" fill="#144070"/>
<rect x="623.60" y="555.00" width="12.30" height="5.30" fill="#2171d2"/>
<rect x="623.60" y="560.30" width="12.30" height="7.70" fill="#a0c5ef"/>
<rect x="623.60" y="568.00" width="12.30" height="5.40" fill="#1a9f9a"/>
<rect x="623.60" y="573.40" width="12.30" height="0.80" fill="#3fe0e0"/>
<rect x="637.30" y="339.50" width="12.30" height="145.60" fill="#7a1052"/>
<rect x="637.30" y="485.10" width="12.30" height="38.90" fill="#9f1a70"/>
<rect x="637.30" y="524.00" width="12.30" height="5.60" fill="#d21f90"/>
<rect x="637.30" y="529.60" width="12.30" height="13.60" fill="#e96fc0"/>
<rect x="637.30" y="543.20" width="12.30" height="2.60" fill="#f09dd6"/>
<rect x="637.30" y="545.80" width="12.30" height="7.30" fill="#144070"/>
<rect x="637.30" y="553.10" width="12.30" height="6.30" fill="#2171d2"/>
<rect x="637.30" y="559.40" width="12.30" height="11.00" fill="#a0c5ef"/>
<rect x="637.30" y="570.40" width="12.30" height="3.50" fill="#1a9f9a"/>
<rect x="637.30" y="573.90" width="12.30" height="0.30" fill="#3fe0e0"/>
<rect x="651.00" y="339.50" width="12.30" height="104.80" fill="#7a1052"/>
<rect x="651.00" y="444.30" width="12.30" height="49.60" fill="#9f1a70"/>
<rect x="651.00" y="493.90" width="12.30" height="6.60" fill="#d21f90"/>
<rect x="651.00" y="500.50" width="12.30" height="26.50" fill="#e96fc0"/>
<rect x="651.00" y="527.00" width="12.30" height="6.00" fill="#f09dd6"/>
<rect x="651.00" y="533.00" width="12.30" height="29.00" fill="#144070"/>
<rect x="651.00" y="562.00" width="12.30" height="2.70" fill="#2171d2"/>
<rect x="651.00" y="564.70" width="12.30" height="3.30" fill="#a0c5ef"/>
<rect x="651.00" y="568.00" width="12.30" height="5.90" fill="#1a9f9a"/>
<rect x="651.00" y="573.90" width="12.30" height="0.30" fill="#3fe0e0"/>
<rect x="664.70" y="339.50" width="12.30" height="135.20" fill="#7a1052"/>
<rect x="664.70" y="474.70" width="12.30" height="17.70" fill="#9f1a70"/>
<rect x="664.70" y="492.40" width="12.30" height="3.70" fill="#d21f90"/>
<rect x="664.70" y="496.10" width="12.30" height="21.00" fill="#e96fc0"/>
<rect x="664.70" y="517.10" width="12.30" height="1.80" fill="#f09dd6"/>
<rect x="664.70" y="518.90" width="12.30" height="41.80" fill="#144070"/>
<rect x="664.70" y="560.70" width="12.30" height="4.80" fill="#2171d2"/>
<rect x="664.70" y="565.50" width="12.30" height="7.00" fill="#a0c5ef"/>
<rect x="664.70" y="572.50" width="12.30" height="1.70" fill="#1a9f9a"/>
<text x="320.3" y="343.9" font-size="7.9" text-anchor="end" font-weight="normal" font-style="normal" fill="#222" textLength="16.2" lengthAdjust="spacingAndGlyphs" stroke="#222" stroke-width="0.25">1.0%</text>
<text x="320.3" y="402.0" font-size="7.9" text-anchor="end" font-weight="normal" font-style="normal" fill="#222" textLength="20.1" lengthAdjust="spacingAndGlyphs" stroke="#222" stroke-width="0.25">0.75%</text>
<text x="320.3" y="460.2" font-size="7.9" text-anchor="end" font-weight="normal" font-style="normal" fill="#222" textLength="20.1" lengthAdjust="spacingAndGlyphs" stroke="#222" stroke-width="0.25">0.50%</text>
<text x="320.3" y="518.4" font-size="7.9" text-anchor="end" font-weight="normal" font-style="normal" fill="#222" textLength="20.1" lengthAdjust="spacingAndGlyphs" stroke="#222" stroke-width="0.25">0.25%</text>
<text x="320.3" y="576.5" font-size="7.9" text-anchor="end" font-weight="normal" font-style="normal" fill="#222" textLength="20.1" lengthAdjust="spacingAndGlyphs" stroke="#222" stroke-width="0.25">0.00%</text>
<text x="0.0" y="0.0" font-size="14" text-anchor="middle" font-weight="normal" font-style="normal" fill="#111" textLength="116.5" lengthAdjust="spacingAndGlyphs" transform="translate(299.8,449.8) rotate(-90)">Relative abundance</text>
<text x="285.3" y="353.8" font-size="22.2" text-anchor="start" font-weight="normal" font-style="normal" fill="#000" >e)</text>
<rect x="481.9" y="578.8" width="14.8" height="14.8" fill="#f2f2f2"/>
<rect x="482.7" y="579.6" width="13.2" height="13.2" fill="#7a1052"/>
<text x="499.0" y="590.2" font-size="8" text-anchor="start" font-weight="normal" font-style="normal" fill="#111" stroke="#111" stroke-width="0.15">Others</text>
<rect x="481.9" y="593.6" width="14.8" height="14.8" fill="#f2f2f2"/>
<rect x="482.7" y="594.4" width="13.2" height="13.2" fill="#9f1a70"/>
<text x="499.0" y="605.0" font-size="8" text-anchor="start" font-weight="normal" font-style="italic" fill="#111" stroke="#111" stroke-width="0.15">Bradyrhizobium</text>
<rect x="481.9" y="608.3" width="14.8" height="14.8" fill="#f2f2f2"/>
<rect x="482.7" y="609.1" width="13.2" height="13.2" fill="#d21f90"/>
<text x="499.0" y="619.7" font-size="8" text-anchor="start" font-weight="normal" font-style="italic" fill="#111" stroke="#111" stroke-width="0.15">Variovorax</text>
<rect x="481.9" y="623.1" width="14.8" height="14.8" fill="#f2f2f2"/>
<rect x="482.7" y="623.9" width="13.2" height="13.2" fill="#e340aa"/>
<text x="499.0" y="634.5" font-size="8" text-anchor="start" font-weight="normal" font-style="italic" fill="#111" stroke="#111" stroke-width="0.15">Vicinamibacter</text>
<rect x="481.9" y="637.8" width="14.8" height="14.8" fill="#f2f2f2"/>
<rect x="482.7" y="638.6" width="13.2" height="13.2" fill="#e96fc0"/>
<text x="499.0" y="649.2" font-size="8" text-anchor="start" font-weight="normal" font-style="italic" fill="#111" stroke="#111" stroke-width="0.15">Mesorhizobium</text>
<rect x="481.9" y="652.6" width="14.8" height="14.8" fill="#f2f2f2"/>
<rect x="482.7" y="653.4" width="13.2" height="13.2" fill="#f09dd6"/>
<text x="499.0" y="664.0" font-size="8" text-anchor="start" font-weight="normal" font-style="italic" fill="#111" stroke="#111" stroke-width="0.15">Rhizobium</text>
<rect x="481.9" y="667.3" width="14.8" height="14.8" fill="#f2f2f2"/>
<rect x="482.7" y="668.1" width="13.2" height="13.2" fill="#144070"/>
<text x="499.0" y="678.7" font-size="8" text-anchor="start" font-weight="normal" font-style="italic" fill="#111" stroke="#111" stroke-width="0.15">Trinickia</text>
<rect x="481.9" y="682.1" width="14.8" height="14.8" fill="#f2f2f2"/>
<rect x="482.7" y="682.9" width="13.2" height="13.2" fill="#1c5aa2"/>
<text x="499.0" y="693.5" font-size="8" text-anchor="start" font-weight="normal" font-style="italic" fill="#111" stroke="#111" stroke-width="0.15">Lysobacter</text>
<rect x="580.0" y="580.9" width="14.8" height="14.8" fill="#f2f2f2"/>
<rect x="580.8" y="581.7" width="13.2" height="13.2" fill="#2171d2"/>
<text x="597.0" y="592.3" font-size="8" text-anchor="start" font-weight="normal" font-style="italic" fill="#111" stroke="#111" stroke-width="0.15">Gaiella</text>
<rect x="580.0" y="595.7" width="14.8" height="14.8" fill="#f2f2f2"/>
<rect x="580.8" y="596.5" width="13.2" height="13.2" fill="#4089e0"/>
<text x="597.0" y="607.1" font-size="8" text-anchor="start" font-weight="normal" font-style="italic" fill="#111" stroke="#111" stroke-width="0.15">Haliangium</text>
<rect x="580.0" y="610.4" width="14.8" height="14.8" fill="#f2f2f2"/>
<rect x="580.8" y="611.2" width="13.2" height="13.2" fill="#6ea8e8"/>
<text x="597.0" y="621.8" font-size="8" text-anchor="start" font-weight="normal" font-style="italic" fill="#111" stroke="#111" stroke-width="0.15">Paenibacillus</text>
<rect x="580.0" y="625.2" width="14.8" height="14.8" fill="#f2f2f2"/>
<rect x="580.8" y="626.0" width="13.2" height="13.2" fill="#a0c5ef"/>
<text x="597.0" y="636.6" font-size="8" text-anchor="start" font-weight="normal" font-style="italic" fill="#111" stroke="#111" stroke-width="0.15">Occallatibacter</text>
<rect x="580.0" y="639.9" width="14.8" height="14.8" fill="#f2f2f2"/>
<rect x="580.8" y="640.7" width="13.2" height="13.2" fill="#16716a"/>
<text x="597.0" y="651.3" font-size="8" text-anchor="start" font-weight="normal" font-style="italic" fill="#111" stroke="#111" stroke-width="0.15">Novosphingobium</text>
<rect x="580.0" y="654.7" width="14.8" height="14.8" fill="#f2f2f2"/>
<rect x="580.8" y="655.5" width="13.2" height="13.2" fill="#1a9f9a"/>
<text x="597.0" y="666.1" font-size="8" text-anchor="start" font-weight="normal" font-style="italic" fill="#111" stroke="#111" stroke-width="0.15">Agrobacterium</text>
<rect x="580.0" y="669.4" width="14.8" height="14.8" fill="#f2f2f2"/>
<rect x="580.8" y="670.2" width="13.2" height="13.2" fill="#3fe0e0"/>
<text x="597.0" y="680.8" font-size="8" text-anchor="start" font-weight="normal" font-style="italic" fill="#111" stroke="#111" stroke-width="0.15">Pseudoxanthomonas</text>
<rect x="580.0" y="684.2" width="14.8" height="14.8" fill="#f2f2f2"/>
<rect x="580.8" y="685.0" width="13.2" height="13.2" fill="#6ee7e6"/>
<text x="597.0" y="695.6" font-size="8" text-anchor="start" font-weight="normal" font-style="italic" fill="#111" stroke="#111" stroke-width="0.15">Phyllobacterium</text>
<defs><linearGradient id="gr" x1="0" y1="0" x2="0" y2="1"><stop offset="0" stop-color="#2c3f95"/><stop offset="0.5" stop-color="#c4c4c4"/><stop offset="1" stop-color="#ee1b3c"/></linearGradient></defs>
<polygon points="352.7,608.9 358.8,608.9 375.7,700.2 352.7,700.2" fill="url(#gr)"/>
<line x1="358.8" y1="608.9" x2="375.7" y2="608.9" stroke="#555" stroke-width="0.8"/>
<line x1="361.7" y1="624.3" x2="375.7" y2="624.3" stroke="#555" stroke-width="0.8"/>
<line x1="364.5" y1="639.6" x2="375.7" y2="639.6" stroke="#555" stroke-width="0.8"/>
<line x1="367.3" y1="654.9" x2="375.7" y2="654.9" stroke="#555" stroke-width="0.8"/>
<line x1="370.2" y1="670.3" x2="375.7" y2="670.3" stroke="#555" stroke-width="0.8"/>
<line x1="373.0" y1="685.6" x2="375.7" y2="685.6" stroke="#555" stroke-width="0.8"/>
<line x1="375.7" y1="700.2" x2="375.7" y2="700.2" stroke="#555" stroke-width="0.8"/>
<text x="350.8" y="612.4" font-size="9.6" text-anchor="end" font-weight="normal" font-style="normal" fill="#111" stroke="#111" stroke-width="0.12">-8.000</text>
<text x="350.8" y="627.8" font-size="9.6" text-anchor="end" font-weight="normal" font-style="normal" fill="#111" stroke="#111" stroke-width="0.12">-3.560</text>
<text x="350.8" y="643.1" font-size="9.6" text-anchor="end" font-weight="normal" font-style="normal" fill="#111" stroke="#111" stroke-width="0.12">-0.889</text>
<text x="350.8" y="658.4" font-size="9.6" text-anchor="end" font-weight="normal" font-style="normal" fill="#111" stroke="#111" stroke-width="0.12">0.000</text>
<text x="350.8" y="673.8" font-size="9.6" text-anchor="end" font-weight="normal" font-style="normal" fill="#111" stroke="#111" stroke-width="0.12">0.889</text>
<text x="350.8" y="689.1" font-size="9.6" text-anchor="end" font-weight="normal" font-style="normal" fill="#111" stroke="#111" stroke-width="0.12">3.560</text>
<text x="350.8" y="703.7" font-size="9.6" text-anchor="end" font-weight="normal" font-style="normal" fill="#111" stroke="#111" stroke-width="0.12">8.000</text>
<text x="392.5" y="612.4" font-size="9.6" text-anchor="middle" font-weight="normal" font-style="normal" fill="#111" stroke="#111" stroke-width="0.12">1.0</text>
<text x="392.5" y="627.8" font-size="9.6" text-anchor="middle" font-weight="normal" font-style="normal" fill="#111" stroke="#111" stroke-width="0.12">79.7</text>
<text x="392.5" y="643.1" font-size="9.6" text-anchor="middle" font-weight="normal" font-style="normal" fill="#111" stroke="#111" stroke-width="0.12">316.0</text>
<text x="392.5" y="658.4" font-size="9.6" text-anchor="middle" font-weight="normal" font-style="normal" fill="#111" stroke="#111" stroke-width="0.12">710.0</text>
<text x="392.5" y="673.8" font-size="9.6" text-anchor="middle" font-weight="normal" font-style="normal" fill="#111" stroke="#111" stroke-width="0.12">1260.0</text>
<text x="392.5" y="689.1" font-size="9.6" text-anchor="middle" font-weight="normal" font-style="normal" fill="#111" stroke="#111" stroke-width="0.12">1970.0</text>
<text x="392.5" y="703.7" font-size="9.6" text-anchor="middle" font-weight="normal" font-style="normal" fill="#111" stroke="#111" stroke-width="0.12">2840.0</text>
<text x="369.3" y="599.2" font-size="11.8" text-anchor="middle" font-weight="normal" font-style="normal" fill="#111" >Nodes</text>
<text x="0.0" y="0.0" font-size="11.3" text-anchor="middle" font-weight="normal" font-style="normal" fill="#111" transform="translate(316.8,654.5) rotate(-90)">Median ratio (log2)</text>
<text x="0.0" y="0.0" font-size="11.4" text-anchor="middle" font-weight="normal" font-style="normal" fill="#111" transform="translate(421,654.8) rotate(-90)">Abundance level</text>
<line x1="132.5" y1="117.5" x2="111.4" y2="64.4" stroke="#e04a67" stroke-width="2.9" stroke-linecap="round"/>
<line x1="111.4" y1="64.4" x2="118.5" y2="10.2" stroke="#e04a67" stroke-width="2.175" stroke-linecap="round"/>
<line x1="111.4" y1="64.4" x2="127.7" y2="9.5" stroke="#e04a67" stroke-width="2.175" stroke-linecap="round"/>
<line x1="111.4" y1="64.4" x2="137.0" y2="9.5" stroke="#e04a67" stroke-width="2.175" stroke-linecap="round"/>
<line x1="111.4" y1="64.4" x2="109.3" y2="12.7" stroke="#e04a67" stroke-width="2.175" stroke-linecap="round"/>
<line x1="111.4" y1="64.4" x2="100.0" y2="14.7" stroke="#e04a67" stroke-width="2.175" stroke-linecap="round"/>
<line x1="111.4" y1="64.4" x2="91.0" y2="18.4" stroke="#e04a67" stroke-width="2.175" stroke-linecap="round"/>
<line x1="111.4" y1="64.4" x2="81.7" y2="22.5" stroke="#e04a67" stroke-width="2.175" stroke-linecap="round"/>
<line x1="111.4" y1="64.4" x2="73.6" y2="26.6" stroke="#e04a67" stroke-width="2.175" stroke-linecap="round"/>
<line x1="111.4" y1="64.4" x2="65.4" y2="31.7" stroke="#e04a67" stroke-width="2.175" stroke-linecap="round"/>
<line x1="111.4" y1="64.4" x2="58.2" y2="37.8" stroke="#e04a67" stroke-width="2.175" stroke-linecap="round"/>
<line x1="111.4" y1="64.4" x2="52.1" y2="44.0" stroke="#e04a67" stroke-width="2.175" stroke-linecap="round"/>
<line x1="132.5" y1="117.5" x2="86.0" y2="91.0" stroke="#e04a67" stroke-width="2.61" stroke-linecap="round"/>
<line x1="86.0" y1="91.0" x2="39.9" y2="59.3" stroke="#e04a67" stroke-width="2.175" stroke-linecap="round"/>
<line x1="86.0" y1="91.0" x2="34.7" y2="67.4" stroke="#e04a67" stroke-width="2.175" stroke-linecap="round"/>
<line x1="86.0" y1="91.0" x2="46.0" y2="52.1" stroke="#d98a9c" stroke-width="2.175" stroke-linecap="round"/>
<line x1="132.5" y1="117.5" x2="79.7" y2="103.2" stroke="#d98a9c" stroke-width="2.9" stroke-linecap="round"/>
<line x1="79.7" y1="103.2" x2="31.7" y2="76.0" stroke="#e04a67" stroke-width="2.175" stroke-linecap="round"/>
<line x1="79.7" y1="103.2" x2="27.6" y2="84.2" stroke="#d98a9c" stroke-width="2.175" stroke-linecap="round"/>
<line x1="79.7" y1="103.2" x2="25.5" y2="94.0" stroke="#e04a67" stroke-width="2.175" stroke-linecap="round"/>
<line x1="79.7" y1="103.2" x2="23.5" y2="102.8" stroke="#e04a67" stroke-width="2.175" stroke-linecap="round"/>
<line x1="132.5" y1="117.5" x2="78.7" y2="129.2" stroke="#a1a9c6" stroke-width="4.0249999999999995" stroke-linecap="round"/>
<line x1="78.7" y1="129.2" x2="23.5" y2="120.8" stroke="#7080b8" stroke-width="2.32" stroke-linecap="round"/>
<line x1="78.7" y1="129.2" x2="23.5" y2="130.7" stroke="#e04a67" stroke-width="2.32" stroke-linecap="round"/>
<line x1="78.7" y1="129.2" x2="24.5" y2="139.9" stroke="#a1a9c6" stroke-width="2.32" stroke-linecap="round"/>
<line x1="78.7" y1="129.2" x2="27.6" y2="149.0" stroke="#e04a67" stroke-width="2.32" stroke-linecap="round"/>
<line x1="78.7" y1="129.2" x2="30.2" y2="158.2" stroke="#7080b8" stroke-width="2.32" stroke-linecap="round"/>
<line x1="78.7" y1="129.2" x2="34.3" y2="166.4" stroke="#a1a9c6" stroke-width="3.625" stroke-linecap="round"/>
<line x1="132.5" y1="117.5" x2="104.2" y2="165.4" stroke="#e04a67" stroke-width="3.4499999999999997" stroke-linecap="round"/>
<line x1="104.2" y1="165.4" x2="45.0" y2="183.0" stroke="#e04a67" stroke-width="2.32" stroke-linecap="round"/>
<line x1="104.2" y1="165.4" x2="49.0" y2="190.0" stroke="#e04a67" stroke-width="2.32" stroke-linecap="round"/>
<line x1="104.2" y1="165.4" x2="56.2" y2="196.0" stroke="#e04a67" stroke-width="2.32" stroke-linecap="round"/>
<line x1="104.2" y1="165.4" x2="63.4" y2="202.2" stroke="#e04a67" stroke-width="2.32" stroke-linecap="round"/>
<line x1="104.2" y1="165.4" x2="71.5" y2="206.3" stroke="#e04a67" stroke-width="2.32" stroke-linecap="round"/>
<line x1="104.2" y1="165.4" x2="80.7" y2="211.4" stroke="#e04a67" stroke-width="2.32" stroke-linecap="round"/>
<line x1="104.2" y1="165.4" x2="88.9" y2="217.5" stroke="#e04a67" stroke-width="2.32" stroke-linecap="round"/>
<line x1="104.2" y1="165.4" x2="98.8" y2="218.9" stroke="#e04a67" stroke-width="3.77" stroke-linecap="round"/>
<line x1="104.2" y1="165.4" x2="107.6" y2="224.0" stroke="#d8607c" stroke-width="4.14" stroke-linecap="round"/>
<line x1="132.5" y1="117.5" x2="156.3" y2="170.7" stroke="#e04a67" stroke-width="3.625" stroke-linecap="round"/>
<line x1="156.3" y1="170.7" x2="197.4" y2="206.2" stroke="#e04a67" stroke-width="2.175" stroke-linecap="round"/>
<line x1="156.3" y1="170.7" x2="189.6" y2="211.8" stroke="#e04a67" stroke-width="2.175" stroke-linecap="round"/>
<line x1="156.3" y1="170.7" x2="180.8" y2="215.3" stroke="#d98a9c" stroke-width="3.625" stroke-linecap="round"/>
<line x1="156.3" y1="170.7" x2="173.8" y2="219.7" stroke="#e04a67" stroke-width="2.175" stroke-linecap="round"/>
<line x1="156.3" y1="170.7" x2="163.3" y2="222.3" stroke="#e04a67" stroke-width="2.175" stroke-linecap="round"/>
<line x1="156.3" y1="170.7" x2="153.7" y2="224.0" stroke="#e04a67" stroke-width="2.175" stroke-linecap="round"/>
<line x1="132.5" y1="117.5" x2="177.3" y2="154.0" stroke="#e04a67" stroke-width="2.9" stroke-linecap="round"/>
<line x1="177.3" y1="154.0" x2="229.5" y2="171.9" stroke="#e04a67" stroke-width="2.175" stroke-linecap="round"/>
<line x1="177.3" y1="154.0" x2="224.6" y2="180.0" stroke="#e04a67" stroke-width="2.175" stroke-linecap="round"/>
<line x1="177.3" y1="154.0" x2="218.5" y2="187.0" stroke="#e04a67" stroke-width="2.175" stroke-linecap="round"/>
<line x1="177.3" y1="154.0" x2="212.3" y2="193.4" stroke="#e04a67" stroke-width="2.175" stroke-linecap="round"/>
<line x1="177.3" y1="154.0" x2="205.3" y2="200.4" stroke="#e04a67" stroke-width="2.175" stroke-linecap="round"/>
<line x1="132.5" y1="117.5" x2="186.6" y2="129.2" stroke="#8e97c0" stroke-width="6.8999999999999995" stroke-linecap="round"/>
<line x1="186.6" y1="129.2" x2="243.8" y2="117.5" stroke="#7f8cc0" stroke-width="5.175" stroke-linecap="round"/>
<line x1="186.6" y1="129.2" x2="243.8" y2="126.9" stroke="#7f8cc0" stroke-width="5.175" stroke-linecap="round"/>
<line x1="186.6" y1="129.2" x2="242.6" y2="136.2" stroke="#e04a67" stroke-width="3.625" stroke-linecap="round"/>
<line x1="186.6" y1="129.2" x2="240.3" y2="145.5" stroke="#a1a9c6" stroke-width="3.4499999999999997" stroke-linecap="round"/>
<line x1="186.6" y1="129.2" x2="236.8" y2="154.9" stroke="#d98a9c" stroke-width="2.9" stroke-linecap="round"/>
<line x1="186.6" y1="129.2" x2="233.4" y2="163.7" stroke="#e04a67" stroke-width="2.32" stroke-linecap="round"/>
<line x1="132.5" y1="117.5" x2="38.8" y2="174.6" stroke="#e04a67" stroke-width="2.61" stroke-linecap="round"/>
<line x1="132.5" y1="117.5" x2="22.5" y2="112.0" stroke="#e04a67" stroke-width="2.175" stroke-linecap="round"/>
<line x1="132.5" y1="117.5" x2="125.8" y2="226.0" stroke="#e04a67" stroke-width="2.9" stroke-linecap="round"/>
<line x1="132.5" y1="117.5" x2="135.2" y2="226.0" stroke="#e04a67" stroke-width="2.9" stroke-linecap="round"/>
<line x1="132.5" y1="117.5" x2="144.5" y2="226.0" stroke="#d98a9c" stroke-width="2.9" stroke-linecap="round"/>
<line x1="132.5" y1="117.5" x2="147.6" y2="10.5" stroke="#a1a9c6" stroke-width="2.175" stroke-linecap="round"/>
<line x1="132.5" y1="117.5" x2="156.2" y2="12.1" stroke="#e04a67" stroke-width="2.175" stroke-linecap="round"/>
<line x1="132.5" y1="117.5" x2="166.3" y2="14.5" stroke="#7080b8" stroke-width="2.175" stroke-linecap="round"/>
<line x1="132.5" y1="117.5" x2="183.5" y2="21.5" stroke="#e04a67" stroke-width="2.175" stroke-linecap="round"/>
<line x1="132.5" y1="117.5" x2="192.0" y2="26.2" stroke="#e04a67" stroke-width="2.175" stroke-linecap="round"/>
<line x1="132.5" y1="117.5" x2="199.9" y2="30.8" stroke="#e8284a" stroke-width="2.175" stroke-linecap="round"/>
<line x1="132.5" y1="117.5" x2="206.9" y2="37.4" stroke="#e04a67" stroke-width="2.175" stroke-linecap="round"/>
<line x1="132.5" y1="117.5" x2="213.9" y2="43.9" stroke="#e04a67" stroke-width="2.175" stroke-linecap="round"/>
<line x1="132.5" y1="117.5" x2="220.9" y2="50.9" stroke="#e04a67" stroke-width="2.175" stroke-linecap="round"/>
<line x1="132.5" y1="117.5" x2="225.6" y2="58.4" stroke="#7080b8" stroke-width="2.465" stroke-linecap="round"/>
<line x1="132.5" y1="117.5" x2="231.0" y2="67.0" stroke="#d98a9c" stroke-width="2.61" stroke-linecap="round"/>
<line x1="132.5" y1="117.5" x2="234.5" y2="75.2" stroke="#a1a9c6" stroke-width="2.465" stroke-linecap="round"/>
<line x1="132.5" y1="117.5" x2="238.0" y2="83.6" stroke="#d98a9c" stroke-width="2.61" stroke-linecap="round"/>
<line x1="132.5" y1="117.5" x2="241.0" y2="92.7" stroke="#e04a67" stroke-width="2.32" stroke-linecap="round"/>
<line x1="132.5" y1="117.5" x2="243.3" y2="102.0" stroke="#cc2444" stroke-width="2.61" stroke-linecap="round"/>
<line x1="132.5" y1="117.5" x2="243.8" y2="111.0" stroke="#e8284a" stroke-width="2.61" stroke-linecap="round"/>
<circle cx="179.6" cy="87.6" r="2.5" fill="#7080b8"/>
<circle cx="181.9" cy="92.3" r="2.0" fill="#d98a9c"/>
<circle cx="184.2" cy="95.8" r="2.0" fill="#a1a9c6"/>
<circle cx="186.6" cy="101.6" r="2.0" fill="#d98a9c"/>
<circle cx="187.7" cy="106.3" r="2.0" fill="#d98a9c"/>
<circle cx="118.5" cy="10.2" r="2.16" fill="#e04a67"/>
<circle cx="127.7" cy="9.5" r="2.16" fill="#e04a67"/>
<circle cx="137.0" cy="9.5" r="2.16" fill="#e04a67"/>
<circle cx="109.3" cy="12.7" r="2.16" fill="#e04a67"/>
<circle cx="100.0" cy="14.7" r="2.16" fill="#e04a67"/>
<circle cx="91.0" cy="18.4" r="2.16" fill="#e04a67"/>
<circle cx="81.7" cy="22.5" r="2.16" fill="#e04a67"/>
<circle cx="73.6" cy="26.6" r="2.16" fill="#e04a67"/>
<circle cx="65.4" cy="31.7" r="2.16" fill="#e04a67"/>
<circle cx="58.2" cy="37.8" r="2.16" fill="#e04a67"/>
<circle cx="52.1" cy="44.0" r="2.16" fill="#e04a67"/>
<circle cx="39.9" cy="59.3" r="2.16" fill="#e04a67"/>
<circle cx="34.7" cy="67.4" r="2.16" fill="#e04a67"/>
<circle cx="46.0" cy="52.1" r="2.16" fill="#d98a9c"/>
<circle cx="31.7" cy="76.0" r="2.16" fill="#e04a67"/>
<circle cx="27.6" cy="84.2" r="2.16" fill="#d98a9c"/>
<circle cx="25.5" cy="94.0" r="2.16" fill="#e04a67"/>
<circle cx="23.5" cy="102.8" r="2.16" fill="#e04a67"/>
<circle cx="79.7" cy="103.2" r="1.8" fill="#d98a9c"/>
<circle cx="23.5" cy="120.8" r="2.16" fill="#7080b8"/>
<circle cx="23.5" cy="130.7" r="2.16" fill="#e04a67"/>
<circle cx="24.5" cy="139.9" r="2.64" fill="#a1a9c6"/>
<circle cx="27.6" cy="149.0" r="2.16" fill="#e04a67"/>
<circle cx="30.2" cy="158.2" r="2.64" fill="#7080b8"/>
<circle cx="34.3" cy="166.4" r="3.36" fill="#a1a9c6"/>
<circle cx="78.7" cy="129.2" r="3.0" fill="#a1a9c6"/>
<circle cx="45.0" cy="183.0" r="2.16" fill="#e04a67"/>
<circle cx="49.0" cy="190.0" r="2.16" fill="#e04a67"/>
<circle cx="56.2" cy="196.0" r="2.16" fill="#e04a67"/>
<circle cx="63.4" cy="202.2" r="2.16" fill="#e04a67"/>
<circle cx="71.5" cy="206.3" r="2.16" fill="#e04a67"/>
<circle cx="80.7" cy="211.4" r="2.16" fill="#e04a67"/>
<circle cx="88.9" cy="217.5" r="2.4" fill="#e04a67"/>
<circle cx="98.8" cy="218.9" r="2.64" fill="#e04a67"/>
<circle cx="107.6" cy="224.0" r="3.36" fill="#d8607c"/>
<circle cx="197.4" cy="206.2" r="2.16" fill="#e04a67"/>
<circle cx="189.6" cy="211.8" r="2.16" fill="#e04a67"/>
<circle cx="180.8" cy="215.3" r="3.0" fill="#d98a9c"/>
<circle cx="173.8" cy="219.7" r="2.16" fill="#e04a67"/>
<circle cx="163.3" cy="222.3" r="2.16" fill="#e04a67"/>
<circle cx="153.7" cy="224.0" r="2.16" fill="#e04a67"/>
<circle cx="229.5" cy="171.9" r="2.16" fill="#e04a67"/>
<circle cx="224.6" cy="180.0" r="2.16" fill="#e04a67"/>
<circle cx="218.5" cy="187.0" r="2.16" fill="#e04a67"/>
<circle cx="212.3" cy="193.4" r="2.16" fill="#e04a67"/>
<circle cx="205.3" cy="200.4" r="2.16" fill="#e04a67"/>
<circle cx="243.8" cy="117.5" r="5.04" fill="#7f8cc0"/>
<circle cx="243.8" cy="126.9" r="5.04" fill="#7f8cc0"/>
<circle cx="242.6" cy="136.2" r="3.5999999999999996" fill="#e04a67"/>
<circle cx="240.3" cy="145.5" r="4.2" fill="#a1a9c6"/>
<circle cx="236.8" cy="154.9" r="3.0" fill="#d98a9c"/>
<circle cx="233.4" cy="163.7" r="2.4" fill="#e04a67"/>
<circle cx="186.6" cy="129.2" r="6.0" fill="#8e97c0"/>
<circle cx="38.8" cy="174.6" r="2.16" fill="#e04a67"/>
<circle cx="22.5" cy="112.0" r="2.16" fill="#e04a67"/>
<circle cx="125.8" cy="226.0" r="2.16" fill="#e04a67"/>
<circle cx="135.2" cy="226.0" r="2.16" fill="#e04a67"/>
<circle cx="144.5" cy="226.0" r="2.16" fill="#d98a9c"/>
<circle cx="147.6" cy="10.5" r="2.16" fill="#a1a9c6"/>
<circle cx="156.2" cy="12.1" r="2.16" fill="#e04a67"/>
<circle cx="166.3" cy="14.5" r="2.4" fill="#7080b8"/>
<circle cx="183.5" cy="21.5" r="2.16" fill="#e04a67"/>
<circle cx="192.0" cy="26.2" r="2.16" fill="#e04a67"/>
<circle cx="199.9" cy="30.8" r="2.16" fill="#e8284a"/>
<circle cx="206.9" cy="37.4" r="2.16" fill="#e04a67"/>
<circle cx="213.9" cy="43.9" r="2.16" fill="#e04a67"/>
<circle cx="220.9" cy="50.9" r="2.16" fill="#e04a67"/>
<circle cx="225.6" cy="58.4" r="2.64" fill="#7080b8"/>
<circle cx="231.0" cy="67.0" r="2.64" fill="#d98a9c"/>
<circle cx="234.5" cy="75.2" r="2.4" fill="#a1a9c6"/>
<circle cx="238.0" cy="83.6" r="2.64" fill="#d98a9c"/>
<circle cx="241.0" cy="92.7" r="2.4" fill="#e04a67"/>
<circle cx="243.3" cy="102.0" r="2.4" fill="#cc2444"/>
<circle cx="243.8" cy="111.0" r="2.4" fill="#e8284a"/>
<circle cx="132.5" cy="117.5" r="7.5" fill="#c4c4c4"/>
<text x="109.3" y="5.6" font-size="6.16" text-anchor="start" font-weight="normal" font-style="normal" fill="#111" textLength="40.7" lengthAdjust="spacingAndGlyphs" stroke="#111" stroke-width="0.18">Dehalococcoidia</text>
<text x="113.0" y="9.6" font-size="5.824000000000001" text-anchor="start" font-weight="normal" font-style="normal" fill="#111" textLength="63.0" lengthAdjust="spacingAndGlyphs" stroke="#111" stroke-width="0.18">Candidatus_Thermofonsia</text>
<text x="83.8" y="13.1" font-size="6.16" text-anchor="start" font-weight="normal" font-style="normal" fill="#111" textLength="32.7" lengthAdjust="spacingAndGlyphs" stroke="#111" stroke-width="0.18">Anaerolineae</text>
<text x="85.8" y="17.2" font-size="6.16" text-anchor="start" font-weight="normal" font-style="normal" fill="#111" textLength="30.7" lengthAdjust="spacingAndGlyphs" stroke="#111" stroke-width="0.18">Thermoflexia</text>
<text x="62.9" y="21.9" font-size="6.16" text-anchor="start" font-weight="normal" font-style="normal" fill="#111" textLength="59.7" lengthAdjust="spacingAndGlyphs" stroke="#111" stroke-width="0.18">Chloroflexi_incertae_sedis</text>
<text x="62.9" y="27.0" font-size="6.16" text-anchor="start" font-weight="normal" font-style="normal" fill="#111" textLength="40.3" lengthAdjust="spacingAndGlyphs" stroke="#111" stroke-width="0.18">Ktedonobacteria</text>
<text x="61.3" y="31.5" font-size="6.16" text-anchor="start" font-weight="normal" font-style="normal" fill="#111" textLength="27.6" lengthAdjust="spacingAndGlyphs" stroke="#111" stroke-width="0.18">Chloroflexia</text>
<text x="50.7" y="36.2" font-size="6.16" text-anchor="start" font-weight="normal" font-style="normal" fill="#111" textLength="33.1" lengthAdjust="spacingAndGlyphs" stroke="#111" stroke-width="0.18">Ardenticatenia</text>
<text x="41.9" y="40.7" font-size="6.16" text-anchor="start" font-weight="normal" font-style="normal" fill="#111" textLength="37.8" lengthAdjust="spacingAndGlyphs" stroke="#111" stroke-width="0.18">Thermomicrobia</text>
<text x="40.9" y="45.4" font-size="6.16" text-anchor="start" font-weight="normal" font-style="normal" fill="#111" textLength="26.5" lengthAdjust="spacingAndGlyphs" stroke="#111" stroke-width="0.18">Tepidiformia</text>
<text x="36.8" y="50.9" font-size="6.16" text-anchor="start" font-weight="normal" font-style="normal" fill="#111" textLength="25.5" lengthAdjust="spacingAndGlyphs" stroke="#111" stroke-width="0.18">Caldilineae</text>
<text x="18.0" y="61.6" font-size="6.16" text-anchor="start" font-weight="normal" font-style="normal" fill="#111" textLength="44.3" lengthAdjust="spacingAndGlyphs" stroke="#111" stroke-width="0.18">Chthonomonadetes</text>
<text x="18.0" y="69.3" font-size="6.16" text-anchor="start" font-weight="normal" font-style="normal" fill="#111" textLength="34.1" lengthAdjust="spacingAndGlyphs" stroke="#111" stroke-width="0.18">Armatimonadia</text>
<text x="98.1" y="70.3" font-size="6.944000000000001" text-anchor="start" font-weight="normal" font-style="normal" fill="#111" textLength="27.6" lengthAdjust="spacingAndGlyphs" stroke="#111" stroke-width="0.18">Chloroflexi</text>
<text x="66.4" y="91.0" font-size="6.720000000000001" text-anchor="start" font-weight="normal" font-style="normal" fill="#111" textLength="40.9" lengthAdjust="spacingAndGlyphs" stroke="#111" stroke-width="0.18">Armatimonadetes</text>
<text x="127.5" y="63.7" font-size="5.824000000000001" text-anchor="start" font-weight="normal" font-style="normal" fill="#111" textLength="25.2" lengthAdjust="spacingAndGlyphs" stroke="#111" stroke-width="0.18">Nitrospinae</text>
<text x="131.7" y="68.4" font-size="5.824000000000001" text-anchor="start" font-weight="normal" font-style="normal" fill="#111" textLength="36.2" lengthAdjust="spacingAndGlyphs" stroke="#111" stroke-width="0.18">Abditibacteriota</text>
<text x="158.5" y="13.9" font-size="5.824000000000001" text-anchor="start" font-weight="normal" font-style="normal" fill="#111" textLength="24.6" lengthAdjust="spacingAndGlyphs" stroke="#111" stroke-width="0.18">Nitrospinia</text>
<text x="149.2" y="19.3" font-size="5.824000000000001" text-anchor="start" font-weight="normal" font-style="normal" fill="#111" textLength="31.5" lengthAdjust="spacingAndGlyphs" stroke="#111" stroke-width="0.18">Abditibacteria</text>
<text x="165.5" y="24.0" font-size="5.824000000000001" text-anchor="start" font-weight="normal" font-style="normal" fill="#111" textLength="31.6" lengthAdjust="spacingAndGlyphs" stroke="#111" stroke-width="0.18">Endomicrobia</text>
<text x="172.6" y="28.7" font-size="5.824000000000001" text-anchor="start" font-weight="normal" font-style="normal" fill="#111" textLength="31.5" lengthAdjust="spacingAndGlyphs" stroke="#111" stroke-width="0.18">Elusimicrobia</text>
<text x="162.0" y="32.6" font-size="5.824000000000001" text-anchor="start" font-weight="normal" font-style="normal" fill="#111" textLength="69.0" lengthAdjust="spacingAndGlyphs" stroke="#111" stroke-width="0.18">Calditrichaeota_incertae_sedis</text>
<text x="190.0" y="38.0" font-size="5.824000000000001" text-anchor="start" font-weight="normal" font-style="normal" fill="#111" textLength="25.8" lengthAdjust="spacingAndGlyphs" stroke="#111" stroke-width="0.18">Calditrichia</text>
<text x="182.6" y="43.1" font-size="5.824000000000001" text-anchor="start" font-weight="normal" font-style="normal" fill="#111" textLength="54.2" lengthAdjust="spacingAndGlyphs" stroke="#111" stroke-width="0.18">Thermodesulfobacteria</text>
<text x="200.6" y="47.8" font-size="5.824000000000001" text-anchor="start" font-weight="normal" font-style="normal" fill="#111" textLength="29.2" lengthAdjust="spacingAndGlyphs" stroke="#111" stroke-width="0.18">Fibrobacteria</text>
<text x="206.0" y="52.5" font-size="5.824000000000001" text-anchor="start" font-weight="normal" font-style="normal" fill="#111" textLength="28.5" lengthAdjust="spacingAndGlyphs" stroke="#111" stroke-width="0.18">Chitinispirillia</text>
<text x="145.7" y="73.0" font-size="5.824000000000001" text-anchor="start" font-weight="normal" font-style="normal" fill="#111" textLength="30.3" lengthAdjust="spacingAndGlyphs" stroke="#111" stroke-width="0.18">Elusimicrobia</text>
<text x="150.4" y="77.7" font-size="5.824000000000001" text-anchor="start" font-weight="normal" font-style="normal" fill="#111" textLength="33.8" lengthAdjust="spacingAndGlyphs" stroke="#111" stroke-width="0.18">Calditrichaeota</text>
<text x="150.4" y="82.4" font-size="5.824000000000001" text-anchor="start" font-weight="normal" font-style="normal" fill="#111" textLength="50.2" lengthAdjust="spacingAndGlyphs" stroke="#111" stroke-width="0.18">Thermodesulfobacteria</text>
<text x="160.9" y="87.1" font-size="5.824000000000001" text-anchor="start" font-weight="normal" font-style="normal" fill="#111" textLength="31.5" lengthAdjust="spacingAndGlyphs" stroke="#111" stroke-width="0.18">Fibrobacteres</text>
<text x="229.8" y="103.8" font-size="5.6000000000000005" text-anchor="start" font-weight="normal" font-style="normal" fill="#111" textLength="25.7" lengthAdjust="spacingAndGlyphs" stroke="#111" stroke-width="0.18">Atribacteria</text>
<text x="234.5" y="113.1" font-size="5.6000000000000005" text-anchor="start" font-weight="normal" font-style="normal" fill="#111" textLength="19.8" lengthAdjust="spacingAndGlyphs" stroke="#111" stroke-width="0.18">Aquificae</text>
<text x="173.7" y="112.2" font-size="5.6000000000000005" text-anchor="start" font-weight="normal" font-style="normal" fill="#111" textLength="28.1" lengthAdjust="spacingAndGlyphs" stroke="#111" stroke-width="0.18">Atribacterota</text>
<text x="178.4" y="116.2" font-size="5.6000000000000005" text-anchor="start" font-weight="normal" font-style="normal" fill="#111" textLength="21.0" lengthAdjust="spacingAndGlyphs" stroke="#111" stroke-width="0.18">Aquificae</text>
<text x="6.1" y="123.4" font-size="6.16" text-anchor="start" font-weight="normal" font-style="normal" fill="#111" textLength="33.8" lengthAdjust="spacingAndGlyphs" stroke="#111" stroke-width="0.18">Flavobacteriia</text>
<text x="10.2" y="133.0" font-size="6.16" text-anchor="start" font-weight="normal" font-style="normal" fill="#111" textLength="26.6" lengthAdjust="spacingAndGlyphs" stroke="#111" stroke-width="0.18">Bacteroidia</text>
<text x="14.3" y="150.5" font-size="6.16" text-anchor="start" font-weight="normal" font-style="normal" fill="#111" textLength="25.6" lengthAdjust="spacingAndGlyphs" stroke="#111" stroke-width="0.18">Saprospiria</text>
<text x="74.6" y="149.9" font-size="6.16" text-anchor="start" font-weight="normal" font-style="normal" fill="#111" textLength="25.5" lengthAdjust="spacingAndGlyphs" stroke="#111" stroke-width="0.18">Nitrospirae</text>
<text x="11.2" y="176.5" font-size="6.16" text-anchor="start" font-weight="normal" font-style="normal" fill="#111" textLength="56.2" lengthAdjust="spacingAndGlyphs" stroke="#111" stroke-width="0.18">Thermodesulfovibrionia</text>
<text x="31.7" y="181.8" font-size="5.6000000000000005" text-anchor="start" font-weight="normal" font-style="normal" fill="#111" textLength="21.4" lengthAdjust="spacingAndGlyphs" stroke="#111" stroke-width="0.18">Nitrospira</text>
<text x="30.7" y="186.5" font-size="5.6000000000000005" text-anchor="start" font-weight="normal" font-style="normal" fill="#111" textLength="34.3" lengthAdjust="spacingAndGlyphs" stroke="#111" stroke-width="0.18">Erysipelotrichia</text>
<text x="36.8" y="191.2" font-size="5.6000000000000005" text-anchor="start" font-weight="normal" font-style="normal" fill="#111" textLength="31.7" lengthAdjust="spacingAndGlyphs" stroke="#111" stroke-width="0.18">Limnochordia</text>
<text x="34.7" y="195.7" font-size="5.6000000000000005" text-anchor="start" font-weight="normal" font-style="normal" fill="#111" textLength="46.0" lengthAdjust="spacingAndGlyphs" stroke="#111" stroke-width="0.18">Thermolithobacteria</text>
<text x="52.1" y="200.8" font-size="5.6000000000000005" text-anchor="start" font-weight="normal" font-style="normal" fill="#111" textLength="25.6" lengthAdjust="spacingAndGlyphs" stroke="#111" stroke-width="0.18">Tissierellia</text>
<text x="55.2" y="205.5" font-size="5.6000000000000005" text-anchor="start" font-weight="normal" font-style="normal" fill="#111" textLength="32.7" lengthAdjust="spacingAndGlyphs" stroke="#111" stroke-width="0.18">Negativicutes</text>
<text x="52.7" y="210.0" font-size="5.6000000000000005" text-anchor="start" font-weight="normal" font-style="normal" fill="#111" textLength="59.7" lengthAdjust="spacingAndGlyphs" stroke="#111" stroke-width="0.18">Firmicutes_incertae_sedis</text>
<text x="73.6" y="216.8" font-size="7.5600000000000005" text-anchor="start" font-weight="normal" font-style="normal" fill="#111" textLength="28.6" lengthAdjust="spacingAndGlyphs" stroke="#111" stroke-width="0.3">Clostridia</text>
<text x="92.0" y="223.3" font-size="8.4" text-anchor="start" font-weight="normal" font-style="normal" fill="#111" textLength="20.4" lengthAdjust="spacingAndGlyphs" stroke="#111" stroke-width="0.3">Bacilli</text>
<text x="55.2" y="227.8" font-size="5.6000000000000005" text-anchor="start" font-weight="normal" font-style="normal" fill="#111" textLength="30.6" lengthAdjust="spacingAndGlyphs" stroke="#111" stroke-width="0.18">Longimicrobia</text>
<text x="85.8" y="227.8" font-size="5.6000000000000005" text-anchor="start" font-weight="normal" font-style="normal" fill="#111" textLength="45.0" lengthAdjust="spacingAndGlyphs" stroke="#111" stroke-width="0.18">Gemmatimonadetes</text>
<text x="132.8" y="227.8" font-size="5.6000000000000005" text-anchor="start" font-weight="normal" font-style="normal" fill="#111" textLength="33.9" lengthAdjust="spacingAndGlyphs" stroke="#111" stroke-width="0.18">Chrysiogenetes</text>
<text x="84.8" y="166.7" font-size="8.925" text-anchor="start" font-weight="normal" font-style="normal" fill="#111" textLength="38.8" lengthAdjust="spacingAndGlyphs" stroke="#111" stroke-width="0.3">Firmicutes</text>
<text x="87.9" y="172.4" font-size="6.16" text-anchor="start" font-weight="normal" font-style="normal" fill="#111" textLength="47.0" lengthAdjust="spacingAndGlyphs" stroke="#111" stroke-width="0.18">Gemmatimonadetes</text>
<text x="143.4" y="134.1" font-size="11.025" text-anchor="start" font-weight="normal" font-style="normal" fill="#111" textLength="68.2" lengthAdjust="spacingAndGlyphs" stroke="#111" stroke-width="0.3">Proteobacteria</text>
<text x="212.3" y="120.0" font-size="7.875" text-anchor="start" font-weight="normal" font-style="normal" fill="#111" textLength="63.7" lengthAdjust="spacingAndGlyphs" stroke="#111" stroke-width="0.3">Betaproteobacteria</text>
<text x="207.6" y="129.1" font-size="8.4" text-anchor="start" font-weight="normal" font-style="normal" fill="#111" textLength="72.4" lengthAdjust="spacingAndGlyphs" stroke="#111" stroke-width="0.3">Alphaproteobacteria</text>
<text x="215.8" y="139.1" font-size="7.6160000000000005" text-anchor="start" font-weight="normal" font-style="normal" fill="#111" textLength="59.5" lengthAdjust="spacingAndGlyphs" stroke="#111" stroke-width="0.18">Deltaproteobacteria</text>
<text x="157.4" y="154.8" font-size="7.056" text-anchor="start" font-weight="normal" font-style="normal" fill="#111" textLength="37.3" lengthAdjust="spacingAndGlyphs" stroke="#111" stroke-width="0.18">Acidobacteria</text>
<text x="213.4" y="164.8" font-size="5.6000000000000005" text-anchor="start" font-weight="normal" font-style="normal" fill="#111" textLength="40.9" lengthAdjust="spacingAndGlyphs" stroke="#111" stroke-width="0.18">Hydrogenophilalia</text>
<text x="209.9" y="173.7" font-size="5.6000000000000005" text-anchor="start" font-weight="normal" font-style="normal" fill="#111" textLength="38.6" lengthAdjust="spacingAndGlyphs" stroke="#111" stroke-width="0.18">Vicinamibacteria</text>
<text x="206.0" y="182.0" font-size="6.720000000000001" text-anchor="start" font-weight="normal" font-style="normal" fill="#111" textLength="36.6" lengthAdjust="spacingAndGlyphs" stroke="#111" stroke-width="0.18">Acidobacteriia</text>
<text x="202.9" y="187.8" font-size="5.824000000000001" text-anchor="start" font-weight="normal" font-style="normal" fill="#111" textLength="32.0" lengthAdjust="spacingAndGlyphs" stroke="#111" stroke-width="0.18">Blastocatellia</text>
<text x="188.9" y="192.9" font-size="5.824000000000001" text-anchor="start" font-weight="normal" font-style="normal" fill="#111" textLength="50.7" lengthAdjust="spacingAndGlyphs" stroke="#111" stroke-width="0.18">Thermoanaerobaculia</text>
<text x="194.3" y="197.6" font-size="5.824000000000001" text-anchor="start" font-weight="normal" font-style="normal" fill="#111" textLength="27.3" lengthAdjust="spacingAndGlyphs" stroke="#111" stroke-width="0.18">Holophagae</text>
<text x="184.9" y="203.4" font-size="5.824000000000001" text-anchor="start" font-weight="normal" font-style="normal" fill="#111" textLength="34.4" lengthAdjust="spacingAndGlyphs" stroke="#111" stroke-width="0.18">Rubrobacteria</text>
<text x="175.6" y="208.1" font-size="5.824000000000001" text-anchor="start" font-weight="normal" font-style="normal" fill="#111" textLength="39.0" lengthAdjust="spacingAndGlyphs" stroke="#111" stroke-width="0.18">Thermoleophilia</text>
<text x="175.6" y="213.5" font-size="6.720000000000001" text-anchor="start" font-weight="normal" font-style="normal" fill="#111" textLength="33.2" lengthAdjust="spacingAndGlyphs" stroke="#111" stroke-width="0.18">Acidimicrobiia</text>
<text x="141.0" y="217.0" font-size="5.824000000000001" text-anchor="start" font-weight="normal" font-style="normal" fill="#111" textLength="33.2" lengthAdjust="spacingAndGlyphs" stroke="#111" stroke-width="0.18">Coriobacteriia</text>
<text x="158.5" y="222.0" font-size="5.6000000000000005" text-anchor="start" font-weight="normal" font-style="normal" fill="#111" textLength="31.1" lengthAdjust="spacingAndGlyphs" stroke="#111" stroke-width="0.18">Nitriliruptoria</text>
<text x="167.9" y="226.1" font-size="7.280000000000001" text-anchor="start" font-weight="normal" font-style="normal" fill="#111" textLength="40.9" lengthAdjust="spacingAndGlyphs" stroke="#111" stroke-width="0.18">Planctomycetia</text>
<text x="136.4" y="169.1" font-size="7.7700000000000005" text-anchor="start" font-weight="normal" font-style="normal" fill="#111" textLength="46.7" lengthAdjust="spacingAndGlyphs" stroke="#111" stroke-width="0.3">Actinobacteria</text>
<text x="125.8" y="176.6" font-size="7.280000000000001" text-anchor="start" font-weight="normal" font-style="normal" fill="#111" textLength="44.4" lengthAdjust="spacingAndGlyphs" stroke="#111" stroke-width="0.18">Planctomycetota</text>
<text x="18.0" y="15.3" font-size="21" text-anchor="start" font-weight="normal" font-style="normal" fill="#000" >a)</text>
<line x1="136.2" y1="349.2" x2="116.5" y2="299.5" stroke="#e04a67" stroke-width="2.9" stroke-linecap="round"/>
<line x1="116.5" y1="299.5" x2="122.6" y2="244.7" stroke="#e04a67" stroke-width="2.175" stroke-linecap="round"/>
<line x1="116.5" y1="299.5" x2="130.8" y2="243.9" stroke="#e04a67" stroke-width="2.175" stroke-linecap="round"/>
<line x1="116.5" y1="299.5" x2="139.0" y2="243.3" stroke="#e04a67" stroke-width="2.175" stroke-linecap="round"/>
<line x1="116.5" y1="299.5" x2="113.4" y2="245.9" stroke="#e04a67" stroke-width="2.175" stroke-linecap="round"/>
<line x1="116.5" y1="299.5" x2="104.6" y2="248.8" stroke="#e04a67" stroke-width="2.175" stroke-linecap="round"/>
<line x1="116.5" y1="299.5" x2="96.0" y2="252.5" stroke="#e04a67" stroke-width="2.175" stroke-linecap="round"/>
<line x1="116.5" y1="299.5" x2="87.9" y2="256.6" stroke="#d98a9c" stroke-width="2.175" stroke-linecap="round"/>
<line x1="116.5" y1="299.5" x2="79.7" y2="260.2" stroke="#e04a67" stroke-width="2.175" stroke-linecap="round"/>
<line x1="116.5" y1="299.5" x2="71.5" y2="266.4" stroke="#e04a67" stroke-width="2.175" stroke-linecap="round"/>
<line x1="116.5" y1="299.5" x2="64.4" y2="271.9" stroke="#e04a67" stroke-width="2.175" stroke-linecap="round"/>
<line x1="116.5" y1="299.5" x2="58.2" y2="278.6" stroke="#e04a67" stroke-width="2.175" stroke-linecap="round"/>
<line x1="116.5" y1="299.5" x2="52.7" y2="284.8" stroke="#e04a67" stroke-width="2.175" stroke-linecap="round"/>
<line x1="136.2" y1="349.2" x2="87.9" y2="319.9" stroke="#e04a67" stroke-width="2.61" stroke-linecap="round"/>
<line x1="87.9" y1="319.9" x2="47.0" y2="292.3" stroke="#e04a67" stroke-width="2.175" stroke-linecap="round"/>
<line x1="87.9" y1="319.9" x2="42.9" y2="300.5" stroke="#e04a67" stroke-width="2.175" stroke-linecap="round"/>
<line x1="87.9" y1="319.9" x2="38.8" y2="308.7" stroke="#e04a67" stroke-width="2.175" stroke-linecap="round"/>
<line x1="136.2" y1="349.2" x2="81.7" y2="334.2" stroke="#d98a9c" stroke-width="2.9" stroke-linecap="round"/>
<line x1="81.7" y1="334.2" x2="35.8" y2="317.5" stroke="#e2a9b5" stroke-width="2.32" stroke-linecap="round"/>
<line x1="81.7" y1="334.2" x2="33.7" y2="325.6" stroke="#e04a67" stroke-width="2.32" stroke-linecap="round"/>
<line x1="81.7" y1="334.2" x2="31.7" y2="335.3" stroke="#e2a9b5" stroke-width="2.32" stroke-linecap="round"/>
<line x1="136.2" y1="349.2" x2="84.8" y2="360.4" stroke="#c4c4c4" stroke-width="4.0249999999999995" stroke-linecap="round"/>
<line x1="84.8" y1="360.4" x2="30.7" y2="343.7" stroke="#e8284a" stroke-width="2.9" stroke-linecap="round"/>
<line x1="84.8" y1="360.4" x2="30.7" y2="353.3" stroke="#a1a9c6" stroke-width="2.32" stroke-linecap="round"/>
<line x1="84.8" y1="360.4" x2="31.1" y2="361.5" stroke="#e04a67" stroke-width="2.32" stroke-linecap="round"/>
<line x1="84.8" y1="360.4" x2="32.7" y2="371.7" stroke="#c4c4c4" stroke-width="2.32" stroke-linecap="round"/>
<line x1="84.8" y1="360.4" x2="35.2" y2="380.9" stroke="#e04a67" stroke-width="2.32" stroke-linecap="round"/>
<line x1="84.8" y1="360.4" x2="37.8" y2="389.0" stroke="#c4c4c4" stroke-width="2.9" stroke-linecap="round"/>
<line x1="84.8" y1="360.4" x2="41.9" y2="397.6" stroke="#c4c4c4" stroke-width="3.625" stroke-linecap="round"/>
<line x1="136.2" y1="349.2" x2="92.0" y2="378.8" stroke="#e04a67" stroke-width="2.61" stroke-linecap="round"/>
<line x1="92.0" y1="378.8" x2="46.6" y2="405.8" stroke="#e04a67" stroke-width="2.32" stroke-linecap="round"/>
<line x1="92.0" y1="378.8" x2="51.1" y2="413.2" stroke="#e04a67" stroke-width="2.32" stroke-linecap="round"/>
<line x1="136.2" y1="349.2" x2="108.3" y2="396.2" stroke="#d98a9c" stroke-width="4.369999999999999" stroke-linecap="round"/>
<line x1="108.3" y1="396.2" x2="57.2" y2="420.1" stroke="#cc2444" stroke-width="2.9" stroke-linecap="round"/>
<line x1="108.3" y1="396.2" x2="63.4" y2="425.8" stroke="#e04a67" stroke-width="2.32" stroke-linecap="round"/>
<line x1="108.3" y1="396.2" x2="70.5" y2="431.0" stroke="#e04a67" stroke-width="2.32" stroke-linecap="round"/>
<line x1="108.3" y1="396.2" x2="77.7" y2="436.0" stroke="#e04a67" stroke-width="2.32" stroke-linecap="round"/>
<line x1="108.3" y1="396.2" x2="85.8" y2="441.2" stroke="#e04a67" stroke-width="2.32" stroke-linecap="round"/>
<line x1="108.3" y1="396.2" x2="94.0" y2="447.3" stroke="#e04a67" stroke-width="2.32" stroke-linecap="round"/>
<line x1="108.3" y1="396.2" x2="111.4" y2="450.4" stroke="#d98a9c" stroke-width="3.6799999999999997" stroke-linecap="round"/>
<line x1="136.2" y1="349.2" x2="157.4" y2="403.1" stroke="#e04a67" stroke-width="3.625" stroke-linecap="round"/>
<line x1="157.4" y1="403.1" x2="190.1" y2="440.4" stroke="#e04a67" stroke-width="2.175" stroke-linecap="round"/>
<line x1="157.4" y1="403.1" x2="182.6" y2="445.1" stroke="#e04a67" stroke-width="2.175" stroke-linecap="round"/>
<line x1="157.4" y1="403.1" x2="173.7" y2="447.5" stroke="#d98a9c" stroke-width="4.06" stroke-linecap="round"/>
<line x1="157.4" y1="403.1" x2="165.5" y2="451.7" stroke="#e04a67" stroke-width="2.175" stroke-linecap="round"/>
<line x1="157.4" y1="403.1" x2="156.9" y2="454.5" stroke="#e04a67" stroke-width="2.175" stroke-linecap="round"/>
<line x1="136.2" y1="349.2" x2="177.2" y2="385.5" stroke="#e04a67" stroke-width="2.9" stroke-linecap="round"/>
<line x1="177.2" y1="385.5" x2="228.6" y2="402.6" stroke="#e04a67" stroke-width="2.175" stroke-linecap="round"/>
<line x1="177.2" y1="385.5" x2="222.8" y2="410.1" stroke="#e04a67" stroke-width="2.175" stroke-linecap="round"/>
<line x1="177.2" y1="385.5" x2="217.6" y2="417.1" stroke="#e04a67" stroke-width="2.175" stroke-linecap="round"/>
<line x1="177.2" y1="385.5" x2="211.1" y2="422.9" stroke="#e04a67" stroke-width="2.175" stroke-linecap="round"/>
<line x1="177.2" y1="385.5" x2="205.3" y2="431.1" stroke="#e04a67" stroke-width="2.175" stroke-linecap="round"/>
<line x1="136.2" y1="349.2" x2="187.7" y2="361.0" stroke="#8e97c0" stroke-width="7.475" stroke-linecap="round"/>
<line x1="187.7" y1="361.0" x2="242.6" y2="349.8" stroke="#7f8cc0" stroke-width="5.175" stroke-linecap="round"/>
<line x1="187.7" y1="361.0" x2="243.8" y2="358.7" stroke="#7f8cc0" stroke-width="5.175" stroke-linecap="round"/>
<line x1="187.7" y1="361.0" x2="241.5" y2="368.0" stroke="#e04a67" stroke-width="3.625" stroke-linecap="round"/>
<line x1="187.7" y1="361.0" x2="239.1" y2="376.9" stroke="#a1a9c6" stroke-width="4.0249999999999995" stroke-linecap="round"/>
<line x1="187.7" y1="361.0" x2="235.6" y2="385.5" stroke="#e04a67" stroke-width="2.61" stroke-linecap="round"/>
<line x1="187.7" y1="361.0" x2="232.1" y2="394.9" stroke="#e04a67" stroke-width="2.32" stroke-linecap="round"/>
<line x1="136.2" y1="349.2" x2="129.3" y2="454.5" stroke="#e04a67" stroke-width="2.9" stroke-linecap="round"/>
<line x1="136.2" y1="349.2" x2="138.7" y2="455.6" stroke="#e04a67" stroke-width="2.9" stroke-linecap="round"/>
<line x1="136.2" y1="349.2" x2="147.6" y2="455.6" stroke="#e04a67" stroke-width="2.9" stroke-linecap="round"/>
<line x1="136.2" y1="349.2" x2="120.6" y2="454.5" stroke="#e04a67" stroke-width="2.9" stroke-linecap="round"/>
<line x1="136.2" y1="349.2" x2="149.2" y2="244.5" stroke="#7080b8" stroke-width="2.175" stroke-linecap="round"/>
<line x1="136.2" y1="349.2" x2="159.7" y2="245.9" stroke="#e04a67" stroke-width="2.32" stroke-linecap="round"/>
<line x1="136.2" y1="349.2" x2="169.0" y2="249.9" stroke="#a1a9c6" stroke-width="2.61" stroke-linecap="round"/>
<line x1="136.2" y1="349.2" x2="176.5" y2="252.2" stroke="#e04a67" stroke-width="2.175" stroke-linecap="round"/>
<line x1="136.2" y1="349.2" x2="184.9" y2="255.7" stroke="#e04a67" stroke-width="2.175" stroke-linecap="round"/>
<line x1="136.2" y1="349.2" x2="192.9" y2="260.4" stroke="#e04a67" stroke-width="2.175" stroke-linecap="round"/>
<line x1="136.2" y1="349.2" x2="200.6" y2="265.5" stroke="#e04a67" stroke-width="2.175" stroke-linecap="round"/>
<line x1="136.2" y1="349.2" x2="206.9" y2="270.9" stroke="#e04a67" stroke-width="2.175" stroke-linecap="round"/>
<line x1="136.2" y1="349.2" x2="213.4" y2="277.9" stroke="#e04a67" stroke-width="2.175" stroke-linecap="round"/>
<line x1="136.2" y1="349.2" x2="220.0" y2="284.2" stroke="#e04a67" stroke-width="2.175" stroke-linecap="round"/>
<line x1="136.2" y1="349.2" x2="225.1" y2="291.9" stroke="#e2a9b5" stroke-width="2.465" stroke-linecap="round"/>
<line x1="136.2" y1="349.2" x2="229.3" y2="299.6" stroke="#e04a67" stroke-width="2.61" stroke-linecap="round"/>
<line x1="136.2" y1="349.2" x2="234.0" y2="307.8" stroke="#c4c4c4" stroke-width="2.465" stroke-linecap="round"/>
<line x1="136.2" y1="349.2" x2="237.3" y2="316.4" stroke="#e04a67" stroke-width="2.61" stroke-linecap="round"/>
<line x1="136.2" y1="349.2" x2="239.6" y2="325.3" stroke="#e8284a" stroke-width="2.61" stroke-linecap="round"/>
<line x1="136.2" y1="349.2" x2="241.5" y2="334.0" stroke="#c4c4c4" stroke-width="2.61" stroke-linecap="round"/>
<line x1="136.2" y1="349.2" x2="242.6" y2="342.8" stroke="#cc2444" stroke-width="2.9" stroke-linecap="round"/>
<circle cx="181.9" cy="320.0" r="2.5" fill="#e2a9b5"/>
<circle cx="186.6" cy="328.0" r="2.0" fill="#c4c4c4"/>
<circle cx="188.2" cy="337.9" r="2.0" fill="#d98a9c"/>
<circle cx="190.0" cy="346.8" r="2.0" fill="#e04a67"/>
<circle cx="122.6" cy="244.7" r="2.16" fill="#e04a67"/>
<circle cx="130.8" cy="243.9" r="2.16" fill="#e04a67"/>
<circle cx="139.0" cy="243.3" r="2.16" fill="#e04a67"/>
<circle cx="113.4" cy="245.9" r="2.16" fill="#e04a67"/>
<circle cx="104.6" cy="248.8" r="2.16" fill="#e04a67"/>
<circle cx="96.0" cy="252.5" r="2.16" fill="#e04a67"/>
<circle cx="87.9" cy="256.6" r="2.16" fill="#d98a9c"/>
<circle cx="79.7" cy="260.2" r="2.16" fill="#e04a67"/>
<circle cx="71.5" cy="266.4" r="2.16" fill="#e04a67"/>
<circle cx="64.4" cy="271.9" r="2.16" fill="#e04a67"/>
<circle cx="58.2" cy="278.6" r="2.16" fill="#e04a67"/>
<circle cx="52.7" cy="284.8" r="2.16" fill="#e04a67"/>
<circle cx="47.0" cy="292.3" r="2.16" fill="#e04a67"/>
<circle cx="42.9" cy="300.5" r="2.16" fill="#e04a67"/>
<circle cx="38.8" cy="308.7" r="2.16" fill="#e04a67"/>
<circle cx="35.8" cy="317.5" r="2.64" fill="#e2a9b5"/>
<circle cx="33.7" cy="325.6" r="2.16" fill="#e04a67"/>
<circle cx="31.7" cy="335.3" r="2.64" fill="#e2a9b5"/>
<circle cx="30.7" cy="343.7" r="2.16" fill="#e8284a"/>
<circle cx="30.7" cy="353.3" r="2.64" fill="#a1a9c6"/>
<circle cx="31.1" cy="361.5" r="2.16" fill="#e04a67"/>
<circle cx="32.7" cy="371.7" r="2.64" fill="#c4c4c4"/>
<circle cx="35.2" cy="380.9" r="2.16" fill="#e04a67"/>
<circle cx="37.8" cy="389.0" r="3.0" fill="#c4c4c4"/>
<circle cx="41.9" cy="397.6" r="3.5999999999999996" fill="#c4c4c4"/>
<circle cx="84.8" cy="360.4" r="3.0" fill="#c4c4c4"/>
<circle cx="46.6" cy="405.8" r="2.16" fill="#e04a67"/>
<circle cx="51.1" cy="413.2" r="2.16" fill="#e04a67"/>
<circle cx="57.2" cy="420.1" r="2.4" fill="#cc2444"/>
<circle cx="63.4" cy="425.8" r="2.16" fill="#e04a67"/>
<circle cx="70.5" cy="431.0" r="2.16" fill="#e04a67"/>
<circle cx="77.7" cy="436.0" r="2.16" fill="#e04a67"/>
<circle cx="85.8" cy="441.2" r="2.16" fill="#e04a67"/>
<circle cx="94.0" cy="447.3" r="2.4" fill="#e04a67"/>
<circle cx="111.4" cy="450.4" r="3.5999999999999996" fill="#d98a9c"/>
<circle cx="190.1" cy="440.4" r="2.16" fill="#e04a67"/>
<circle cx="182.6" cy="445.1" r="2.16" fill="#e04a67"/>
<circle cx="173.7" cy="447.5" r="3.0" fill="#d98a9c"/>
<circle cx="165.5" cy="451.7" r="2.16" fill="#e04a67"/>
<circle cx="156.9" cy="454.5" r="2.16" fill="#e04a67"/>
<circle cx="228.6" cy="402.6" r="2.16" fill="#e04a67"/>
<circle cx="222.8" cy="410.1" r="2.16" fill="#e04a67"/>
<circle cx="217.6" cy="417.1" r="2.16" fill="#e04a67"/>
<circle cx="211.1" cy="422.9" r="2.16" fill="#e04a67"/>
<circle cx="205.3" cy="431.1" r="2.16" fill="#e04a67"/>
<circle cx="242.6" cy="349.8" r="5.04" fill="#7f8cc0"/>
<circle cx="243.8" cy="358.7" r="5.3999999999999995" fill="#7f8cc0"/>
<circle cx="241.5" cy="368.0" r="3.5999999999999996" fill="#e04a67"/>
<circle cx="239.1" cy="376.9" r="4.2" fill="#a1a9c6"/>
<circle cx="235.6" cy="385.5" r="2.4" fill="#e04a67"/>
<circle cx="232.1" cy="394.9" r="2.4" fill="#e04a67"/>
<circle cx="187.7" cy="361.0" r="6.5" fill="#8e97c0"/>
<circle cx="129.3" cy="454.5" r="2.16" fill="#e04a67"/>
<circle cx="138.7" cy="455.6" r="2.16" fill="#e04a67"/>
<circle cx="147.6" cy="455.6" r="2.16" fill="#e04a67"/>
<circle cx="120.6" cy="454.5" r="2.16" fill="#e04a67"/>
<circle cx="149.2" cy="244.5" r="2.16" fill="#7080b8"/>
<circle cx="159.7" cy="245.9" r="2.16" fill="#e04a67"/>
<circle cx="169.0" cy="249.9" r="2.16" fill="#a1a9c6"/>
<circle cx="176.5" cy="252.2" r="2.16" fill="#e04a67"/>
<circle cx="184.9" cy="255.7" r="2.16" fill="#e04a67"/>
<circle cx="192.9" cy="260.4" r="2.16" fill="#e04a67"/>
<circle cx="200.6" cy="265.5" r="2.16" fill="#e04a67"/>
<circle cx="206.9" cy="270.9" r="2.16" fill="#e04a67"/>
<circle cx="213.4" cy="277.9" r="2.16" fill="#e04a67"/>
<circle cx="220.0" cy="284.2" r="2.16" fill="#e04a67"/>
<circle cx="225.1" cy="291.9" r="2.64" fill="#e2a9b5"/>
<circle cx="229.3" cy="299.6" r="2.4" fill="#e04a67"/>
<circle cx="234.0" cy="307.8" r="2.4" fill="#c4c4c4"/>
<circle cx="237.3" cy="316.4" r="2.4" fill="#e04a67"/>
<circle cx="239.6" cy="325.3" r="2.4" fill="#e8284a"/>
<circle cx="241.5" cy="334.0" r="2.4" fill="#c4c4c4"/>
<circle cx="242.6" cy="342.8" r="2.4" fill="#cc2444"/>
<circle cx="136.2" cy="349.2" r="7.8" fill="#c4c4c4"/>
<text x="114.4" y="241.9" font-size="6.16" text-anchor="start" font-weight="normal" font-style="normal" fill="#111" textLength="37.1" lengthAdjust="spacingAndGlyphs" stroke="#111" stroke-width="0.18">Dehalococcoidia</text>
<text x="124.7" y="245.7" font-size="5.6000000000000005" text-anchor="start" font-weight="normal" font-style="normal" fill="#111" textLength="23.3" lengthAdjust="spacingAndGlyphs" stroke="#111" stroke-width="0.18">Candidatus</text>
<text x="153.9" y="245.3" font-size="5.824000000000001" text-anchor="start" font-weight="normal" font-style="normal" fill="#111" textLength="29.6" lengthAdjust="spacingAndGlyphs" stroke="#111" stroke-width="0.18">Thermofonsia</text>
<text x="95.6" y="246.6" font-size="6.16" text-anchor="start" font-weight="normal" font-style="normal" fill="#111" textLength="29.1" lengthAdjust="spacingAndGlyphs" stroke="#111" stroke-width="0.18">Anaerolineae</text>
<text x="94.4" y="250.7" font-size="6.16" text-anchor="start" font-weight="normal" font-style="normal" fill="#111" textLength="28.2" lengthAdjust="spacingAndGlyphs" stroke="#111" stroke-width="0.18">Thermoflexia</text>
<text x="69.5" y="255.0" font-size="6.16" text-anchor="start" font-weight="normal" font-style="normal" fill="#111" textLength="58.2" lengthAdjust="spacingAndGlyphs" stroke="#111" stroke-width="0.18">Chloroflexi_incertae_sedis</text>
<text x="70.5" y="259.9" font-size="6.16" text-anchor="start" font-weight="normal" font-style="normal" fill="#111" textLength="38.8" lengthAdjust="spacingAndGlyphs" stroke="#111" stroke-width="0.18">Ktedonobacteria</text>
<text x="68.5" y="264.2" font-size="6.16" text-anchor="start" font-weight="normal" font-style="normal" fill="#111" textLength="26.5" lengthAdjust="spacingAndGlyphs" stroke="#111" stroke-width="0.18">Chloroflexia</text>
<text x="58.2" y="269.1" font-size="6.16" text-anchor="start" font-weight="normal" font-style="normal" fill="#111" textLength="31.7" lengthAdjust="spacingAndGlyphs" stroke="#111" stroke-width="0.18">Ardenticatenia</text>
<text x="50.1" y="273.8" font-size="6.16" text-anchor="start" font-weight="normal" font-style="normal" fill="#111" textLength="36.8" lengthAdjust="spacingAndGlyphs" stroke="#111" stroke-width="0.18">Thermomicrobia</text>
<text x="49.0" y="277.9" font-size="6.16" text-anchor="start" font-weight="normal" font-style="normal" fill="#111" textLength="25.6" lengthAdjust="spacingAndGlyphs" stroke="#111" stroke-width="0.18">Tepidiformia</text>
<text x="43.9" y="283.0" font-size="6.16" text-anchor="start" font-weight="normal" font-style="normal" fill="#111" textLength="25.6" lengthAdjust="spacingAndGlyphs" stroke="#111" stroke-width="0.18">Caldilineae</text>
<text x="35.2" y="288.1" font-size="6.16" text-anchor="start" font-weight="normal" font-style="normal" fill="#111" textLength="34.3" lengthAdjust="spacingAndGlyphs" stroke="#111" stroke-width="0.18">Fimbriimonadia</text>
<text x="26.6" y="294.6" font-size="6.16" text-anchor="start" font-weight="normal" font-style="normal" fill="#111" textLength="43.9" lengthAdjust="spacingAndGlyphs" stroke="#111" stroke-width="0.18">Chthonomonadetes</text>
<text x="26.2" y="302.4" font-size="6.16" text-anchor="start" font-weight="normal" font-style="normal" fill="#111" textLength="33.5" lengthAdjust="spacingAndGlyphs" stroke="#111" stroke-width="0.18">Armatimonadia</text>
<text x="25.5" y="310.6" font-size="6.16" text-anchor="start" font-weight="normal" font-style="normal" fill="#111" textLength="28.0" lengthAdjust="spacingAndGlyphs" stroke="#111" stroke-width="0.18">Terrimicrobia</text>
<text x="103.2" y="303.3" font-size="6.944000000000001" text-anchor="start" font-weight="normal" font-style="normal" fill="#111" textLength="26.6" lengthAdjust="spacingAndGlyphs" stroke="#111" stroke-width="0.18">Chloroflexi</text>
<text x="71.9" y="323.5" font-size="6.720000000000001" text-anchor="start" font-weight="normal" font-style="normal" fill="#111" textLength="40.5" lengthAdjust="spacingAndGlyphs" stroke="#111" stroke-width="0.18">Armatimonadetes</text>
<text x="13.3" y="328.0" font-size="6.16" text-anchor="start" font-weight="normal" font-style="normal" fill="#111" textLength="40.9" lengthAdjust="spacingAndGlyphs" stroke="#111" stroke-width="0.18">Verrucomicrobiae</text>
<text x="66.4" y="338.0" font-size="6.720000000000001" text-anchor="start" font-weight="normal" font-style="normal" fill="#111" textLength="39.5" lengthAdjust="spacingAndGlyphs" stroke="#111" stroke-width="0.18">Verrucomicrobia</text>
<text x="0.0" y="345.4" font-size="5.6000000000000005" text-anchor="start" font-weight="normal" font-style="normal" fill="#111" textLength="61.3" lengthAdjust="spacingAndGlyphs" stroke="#111" stroke-width="0.18">Bacteroidota_incertae_sedis</text>
<text x="152.7" y="250.0" font-size="5.824000000000001" text-anchor="start" font-weight="normal" font-style="normal" fill="#111" textLength="23.3" lengthAdjust="spacingAndGlyphs" stroke="#111" stroke-width="0.18">Nitrospinia</text>
<text x="163.2" y="254.7" font-size="5.824000000000001" text-anchor="start" font-weight="normal" font-style="normal" fill="#111" textLength="30.4" lengthAdjust="spacingAndGlyphs" stroke="#111" stroke-width="0.18">Endomicrobia</text>
<text x="171.9" y="259.4" font-size="5.824000000000001" text-anchor="start" font-weight="normal" font-style="normal" fill="#111" textLength="29.4" lengthAdjust="spacingAndGlyphs" stroke="#111" stroke-width="0.18">Elusimicrobia</text>
<text x="160.9" y="263.3" font-size="5.824000000000001" text-anchor="start" font-weight="normal" font-style="normal" fill="#111" textLength="67.0" lengthAdjust="spacingAndGlyphs" stroke="#111" stroke-width="0.18">Calditrichaeota_incertae_sedis</text>
<text x="190.0" y="268.0" font-size="5.824000000000001" text-anchor="start" font-weight="normal" font-style="normal" fill="#111" textLength="25.3" lengthAdjust="spacingAndGlyphs" stroke="#111" stroke-width="0.18">Calditrichia</text>
<text x="181.2" y="273.4" font-size="5.824000000000001" text-anchor="start" font-weight="normal" font-style="normal" fill="#111" textLength="52.8" lengthAdjust="spacingAndGlyphs" stroke="#111" stroke-width="0.18">Thermodesulfobacteria</text>
<text x="199.4" y="279.7" font-size="5.824000000000001" text-anchor="start" font-weight="normal" font-style="normal" fill="#111" textLength="29.2" lengthAdjust="spacingAndGlyphs" stroke="#111" stroke-width="0.18">Fibrobacteria</text>
<text x="206.0" y="286.0" font-size="5.824000000000001" text-anchor="start" font-weight="normal" font-style="normal" fill="#111" textLength="28.0" lengthAdjust="spacingAndGlyphs" stroke="#111" stroke-width="0.18">Chitinispirillia</text>
<text x="220.0" y="301.9" font-size="5.824000000000001" text-anchor="start" font-weight="normal" font-style="normal" fill="#111" textLength="21.0" lengthAdjust="spacingAndGlyphs" stroke="#111" stroke-width="0.18">Unknown</text>
<text x="222.8" y="318.7" font-size="5.824000000000001" text-anchor="start" font-weight="normal" font-style="normal" fill="#111" textLength="29.9" lengthAdjust="spacingAndGlyphs" stroke="#111" stroke-width="0.18">Ignavibacteria</text>
<text x="134.5" y="299.5" font-size="5.824000000000001" text-anchor="start" font-weight="normal" font-style="normal" fill="#111" textLength="24.7" lengthAdjust="spacingAndGlyphs" stroke="#111" stroke-width="0.18">Nitrospinae</text>
<text x="145.7" y="303.7" font-size="5.824000000000001" text-anchor="start" font-weight="normal" font-style="normal" fill="#111" textLength="28.5" lengthAdjust="spacingAndGlyphs" stroke="#111" stroke-width="0.18">Elusimicrobia</text>
<text x="150.4" y="308.4" font-size="5.824000000000001" text-anchor="start" font-weight="normal" font-style="normal" fill="#111" textLength="33.8" lengthAdjust="spacingAndGlyphs" stroke="#111" stroke-width="0.18">Calditrichaeota</text>
<text x="146.9" y="313.6" font-size="5.824000000000001" text-anchor="start" font-weight="normal" font-style="normal" fill="#111" textLength="52.5" lengthAdjust="spacingAndGlyphs" stroke="#111" stroke-width="0.18">Thermodesulfobacteria</text>
<text x="162.0" y="318.7" font-size="5.824000000000001" text-anchor="start" font-weight="normal" font-style="normal" fill="#111" textLength="30.9" lengthAdjust="spacingAndGlyphs" stroke="#111" stroke-width="0.18">Fibrobacteres</text>
<text x="173.3" y="327.1" font-size="5.824000000000001" text-anchor="start" font-weight="normal" font-style="normal" fill="#111" textLength="21.0" lengthAdjust="spacingAndGlyphs" stroke="#111" stroke-width="0.18">Unknown</text>
<text x="170.9" y="335.0" font-size="5.824000000000001" text-anchor="start" font-weight="normal" font-style="normal" fill="#111" textLength="32.7" lengthAdjust="spacingAndGlyphs" stroke="#111" stroke-width="0.18">Ignavibacteriae</text>
<text x="180.3" y="348.2" font-size="5.6000000000000005" text-anchor="start" font-weight="normal" font-style="normal" fill="#111" textLength="19.1" lengthAdjust="spacingAndGlyphs" stroke="#111" stroke-width="0.18">Aquificae</text>
<text x="233.3" y="344.5" font-size="5.6000000000000005" text-anchor="start" font-weight="normal" font-style="normal" fill="#111" textLength="18.7" lengthAdjust="spacingAndGlyphs" stroke="#111" stroke-width="0.18">Aquificae</text>
<text x="18.8" y="364.4" font-size="6.16" text-anchor="start" font-weight="normal" font-style="normal" fill="#111" textLength="25.1" lengthAdjust="spacingAndGlyphs" stroke="#111" stroke-width="0.18">Bacteroidia</text>
<text x="22.9" y="382.2" font-size="6.16" text-anchor="start" font-weight="normal" font-style="normal" fill="#111" textLength="25.1" lengthAdjust="spacingAndGlyphs" stroke="#111" stroke-width="0.18">Saprospiria</text>
<text x="80.7" y="381.1" font-size="6.16" text-anchor="start" font-weight="normal" font-style="normal" fill="#111" textLength="24.6" lengthAdjust="spacingAndGlyphs" stroke="#111" stroke-width="0.18">Nitrospirae</text>
<text x="20.0" y="407.7" font-size="6.16" text-anchor="start" font-weight="normal" font-style="normal" fill="#111" textLength="53.2" lengthAdjust="spacingAndGlyphs" stroke="#111" stroke-width="0.18">Thermodesulfovibrionia</text>
<text x="40.9" y="414.3" font-size="5.6000000000000005" text-anchor="start" font-weight="normal" font-style="normal" fill="#111" textLength="21.4" lengthAdjust="spacingAndGlyphs" stroke="#111" stroke-width="0.18">Nitrospira</text>
<text x="40.9" y="421.8" font-size="5.6000000000000005" text-anchor="start" font-weight="normal" font-style="normal" fill="#111" textLength="32.7" lengthAdjust="spacingAndGlyphs" stroke="#111" stroke-width="0.18">Erysipelotrichia</text>
<text x="41.9" y="426.5" font-size="5.6000000000000005" text-anchor="start" font-weight="normal" font-style="normal" fill="#111" textLength="45.0" lengthAdjust="spacingAndGlyphs" stroke="#111" stroke-width="0.18">Thermolithobacteria</text>
<text x="59.3" y="431.2" font-size="5.6000000000000005" text-anchor="start" font-weight="normal" font-style="normal" fill="#111" textLength="24.1" lengthAdjust="spacingAndGlyphs" stroke="#111" stroke-width="0.18">Tissierellia</text>
<text x="61.3" y="436.1" font-size="5.6000000000000005" text-anchor="start" font-weight="normal" font-style="normal" fill="#111" textLength="31.7" lengthAdjust="spacingAndGlyphs" stroke="#111" stroke-width="0.18">Negativicutes</text>
<text x="59.3" y="440.8" font-size="5.6000000000000005" text-anchor="start" font-weight="normal" font-style="normal" fill="#111" textLength="57.6" lengthAdjust="spacingAndGlyphs" stroke="#111" stroke-width="0.18">Firmicutes_incertae_sedis</text>
<text x="79.7" y="447.0" font-size="7.5600000000000005" text-anchor="start" font-weight="normal" font-style="normal" fill="#111" textLength="27.6" lengthAdjust="spacingAndGlyphs" stroke="#111" stroke-width="0.3">Clostridia</text>
<text x="97.1" y="453.5" font-size="8.4" text-anchor="start" font-weight="normal" font-style="normal" fill="#111" textLength="19.0" lengthAdjust="spacingAndGlyphs" stroke="#111" stroke-width="0.3">Bacilli</text>
<text x="62.3" y="458.2" font-size="5.6000000000000005" text-anchor="start" font-weight="normal" font-style="normal" fill="#111" textLength="29.7" lengthAdjust="spacingAndGlyphs" stroke="#111" stroke-width="0.18">Longimicrobia</text>
<text x="92.0" y="458.2" font-size="5.6000000000000005" text-anchor="start" font-weight="normal" font-style="normal" fill="#111" textLength="46.7" lengthAdjust="spacingAndGlyphs" stroke="#111" stroke-width="0.18">Gemmatimonadetes</text>
<text x="138.7" y="457.3" font-size="5.6000000000000005" text-anchor="start" font-weight="normal" font-style="normal" fill="#111" textLength="31.5" lengthAdjust="spacingAndGlyphs" stroke="#111" stroke-width="0.18">Chrysiogenetes</text>
<text x="89.9" y="397.7" font-size="8.925" text-anchor="start" font-weight="normal" font-style="normal" fill="#111" textLength="38.4" lengthAdjust="spacingAndGlyphs" stroke="#111" stroke-width="0.3">Firmicutes</text>
<text x="92.4" y="402.8" font-size="6.16" text-anchor="start" font-weight="normal" font-style="normal" fill="#111" textLength="47.6" lengthAdjust="spacingAndGlyphs" stroke="#111" stroke-width="0.18">Gemmatimonadetes</text>
<text x="212.3" y="352.3" font-size="7.875" text-anchor="start" font-weight="normal" font-style="normal" fill="#111" textLength="61.4" lengthAdjust="spacingAndGlyphs" stroke="#111" stroke-width="0.3">Betaproteobacteria</text>
<text x="206.9" y="360.7" font-size="8.4" text-anchor="start" font-weight="normal" font-style="normal" fill="#111" textLength="71.5" lengthAdjust="spacingAndGlyphs" stroke="#111" stroke-width="0.3">Alphaproteobacteria</text>
<text x="146.2" y="365.9" font-size="11.025" text-anchor="start" font-weight="normal" font-style="normal" fill="#111" textLength="65.4" lengthAdjust="spacingAndGlyphs" stroke="#111" stroke-width="0.3">Proteobacteria</text>
<text x="215.8" y="370.9" font-size="7.6160000000000005" text-anchor="start" font-weight="normal" font-style="normal" fill="#111" textLength="57.2" lengthAdjust="spacingAndGlyphs" stroke="#111" stroke-width="0.18">Deltaproteobacteria</text>
<text x="205.3" y="379.1" font-size="7.5600000000000005" text-anchor="start" font-weight="normal" font-style="normal" fill="#111" textLength="68.4" lengthAdjust="spacingAndGlyphs" stroke="#111" stroke-width="0.3">Gammaproteobacteria</text>
<text x="225.1" y="387.7" font-size="5.6000000000000005" text-anchor="start" font-weight="normal" font-style="normal" fill="#111" textLength="23.4" lengthAdjust="spacingAndGlyphs" stroke="#111" stroke-width="0.18">Oligoflexia</text>
<text x="213.4" y="395.9" font-size="5.6000000000000005" text-anchor="start" font-weight="normal" font-style="normal" fill="#111" textLength="39.3" lengthAdjust="spacingAndGlyphs" stroke="#111" stroke-width="0.18">Hydrogenophilalia</text>
<text x="159.7" y="386.1" font-size="7.056" text-anchor="start" font-weight="normal" font-style="normal" fill="#111" textLength="36.2" lengthAdjust="spacingAndGlyphs" stroke="#111" stroke-width="0.18">Acidobacteria</text>
<text x="209.9" y="404.3" font-size="5.6000000000000005" text-anchor="start" font-weight="normal" font-style="normal" fill="#111" textLength="38.1" lengthAdjust="spacingAndGlyphs" stroke="#111" stroke-width="0.18">Vicinamibacteria</text>
<text x="206.0" y="412.2" font-size="6.720000000000001" text-anchor="start" font-weight="normal" font-style="normal" fill="#111" textLength="35.9" lengthAdjust="spacingAndGlyphs" stroke="#111" stroke-width="0.18">Acidobacteriia</text>
<text x="202.9" y="418.4" font-size="5.824000000000001" text-anchor="start" font-weight="normal" font-style="normal" fill="#111" textLength="32.0" lengthAdjust="spacingAndGlyphs" stroke="#111" stroke-width="0.18">Blastocatellia</text>
<text x="189.6" y="423.6" font-size="5.824000000000001" text-anchor="start" font-weight="normal" font-style="normal" fill="#111" textLength="49.1" lengthAdjust="spacingAndGlyphs" stroke="#111" stroke-width="0.18">Thermoanaerobaculia</text>
<text x="195.2" y="428.2" font-size="5.824000000000001" text-anchor="start" font-weight="normal" font-style="normal" fill="#111" textLength="27.1" lengthAdjust="spacingAndGlyphs" stroke="#111" stroke-width="0.18">Holophagae</text>
<text x="185.9" y="433.4" font-size="5.824000000000001" text-anchor="start" font-weight="normal" font-style="normal" fill="#111" textLength="32.7" lengthAdjust="spacingAndGlyphs" stroke="#111" stroke-width="0.18">Rubrobacteria</text>
<text x="177.2" y="438.0" font-size="5.824000000000001" text-anchor="start" font-weight="normal" font-style="normal" fill="#111" textLength="37.4" lengthAdjust="spacingAndGlyphs" stroke="#111" stroke-width="0.18">Thermoleophilia</text>
<text x="177.2" y="443.7" font-size="6.720000000000001" text-anchor="start" font-weight="normal" font-style="normal" fill="#111" textLength="32.7" lengthAdjust="spacingAndGlyphs" stroke="#111" stroke-width="0.18">Acidimicrobiia</text>
<text x="141.0" y="444.1" font-size="5.824000000000001" text-anchor="start" font-weight="normal" font-style="normal" fill="#111" textLength="32.3" lengthAdjust="spacingAndGlyphs" stroke="#111" stroke-width="0.18">Coriobacteriia</text>
<text x="156.9" y="448.7" font-size="5.6000000000000005" text-anchor="start" font-weight="normal" font-style="normal" fill="#111" textLength="27.3" lengthAdjust="spacingAndGlyphs" stroke="#111" stroke-width="0.18">Nitriliruptoria</text>
<text x="167.9" y="453.3" font-size="7.280000000000001" text-anchor="start" font-weight="normal" font-style="normal" fill="#111" textLength="38.5" lengthAdjust="spacingAndGlyphs" stroke="#111" stroke-width="0.18">Planctomycetia</text>
<text x="139.9" y="399.7" font-size="7.7700000000000005" text-anchor="start" font-weight="normal" font-style="normal" fill="#111" textLength="45.0" lengthAdjust="spacingAndGlyphs" stroke="#111" stroke-width="0.3">Actinobacteria</text>
<text x="129.3" y="407.7" font-size="7.280000000000001" text-anchor="start" font-weight="normal" font-style="normal" fill="#111" textLength="43.3" lengthAdjust="spacingAndGlyphs" stroke="#111" stroke-width="0.18">Planctomycetota</text>
<text x="18.0" y="260.2" font-size="21" text-anchor="start" font-weight="normal" font-style="normal" fill="#000" >b)</text>
<line x1="128.6" y1="587.0" x2="106.3" y2="532.4" stroke="#e04a67" stroke-width="2.9" stroke-linecap="round"/>
<line x1="106.3" y1="532.4" x2="132.8" y2="473.6" stroke="#e04a67" stroke-width="2.175" stroke-linecap="round"/>
<line x1="106.3" y1="532.4" x2="122.6" y2="474.2" stroke="#e04a67" stroke-width="2.175" stroke-linecap="round"/>
<line x1="106.3" y1="532.4" x2="113.4" y2="475.2" stroke="#e04a67" stroke-width="2.175" stroke-linecap="round"/>
<line x1="106.3" y1="532.4" x2="103.2" y2="476.2" stroke="#e04a67" stroke-width="2.175" stroke-linecap="round"/>
<line x1="106.3" y1="532.4" x2="94.0" y2="478.3" stroke="#e04a67" stroke-width="2.175" stroke-linecap="round"/>
<line x1="106.3" y1="532.4" x2="85.8" y2="481.8" stroke="#e04a67" stroke-width="2.175" stroke-linecap="round"/>
<line x1="106.3" y1="532.4" x2="76.6" y2="486.5" stroke="#e04a67" stroke-width="2.175" stroke-linecap="round"/>
<line x1="106.3" y1="532.4" x2="67.4" y2="491.6" stroke="#e04a67" stroke-width="2.175" stroke-linecap="round"/>
<line x1="106.3" y1="532.4" x2="59.3" y2="496.7" stroke="#e04a67" stroke-width="2.175" stroke-linecap="round"/>
<line x1="106.3" y1="532.4" x2="52.1" y2="502.8" stroke="#e04a67" stroke-width="2.175" stroke-linecap="round"/>
<line x1="106.3" y1="532.4" x2="45.0" y2="511.0" stroke="#e04a67" stroke-width="2.175" stroke-linecap="round"/>
<line x1="128.6" y1="587.0" x2="80.7" y2="557.0" stroke="#d98a9c" stroke-width="3.19" stroke-linecap="round"/>
<line x1="80.7" y1="557.0" x2="38.8" y2="518.5" stroke="#d98a9c" stroke-width="2.32" stroke-linecap="round"/>
<line x1="80.7" y1="557.0" x2="32.7" y2="525.9" stroke="#e04a67" stroke-width="2.32" stroke-linecap="round"/>
<line x1="80.7" y1="557.0" x2="28.2" y2="534.5" stroke="#a1a9c6" stroke-width="2.32" stroke-linecap="round"/>
<line x1="128.6" y1="587.0" x2="73.6" y2="571.7" stroke="#d98a9c" stroke-width="3.19" stroke-linecap="round"/>
<line x1="73.6" y1="571.7" x2="24.1" y2="543.7" stroke="#e2a9b5" stroke-width="2.32" stroke-linecap="round"/>
<line x1="73.6" y1="571.7" x2="20.4" y2="552.9" stroke="#d98a9c" stroke-width="2.32" stroke-linecap="round"/>
<line x1="73.6" y1="571.7" x2="18.0" y2="562.1" stroke="#e04a67" stroke-width="2.32" stroke-linecap="round"/>
<line x1="73.6" y1="571.7" x2="16.4" y2="571.7" stroke="#e2a9b5" stroke-width="2.32" stroke-linecap="round"/>
<line x1="73.6" y1="571.7" x2="15.3" y2="581.5" stroke="#d98a9c" stroke-width="2.32" stroke-linecap="round"/>
<line x1="128.6" y1="587.0" x2="72.6" y2="598.4" stroke="#a1a9c6" stroke-width="4.6" stroke-linecap="round"/>
<line x1="72.6" y1="598.4" x2="15.3" y2="591.2" stroke="#d98a9c" stroke-width="2.32" stroke-linecap="round"/>
<line x1="72.6" y1="598.4" x2="15.9" y2="600.4" stroke="#d98a9c" stroke-width="2.32" stroke-linecap="round"/>
<line x1="72.6" y1="598.4" x2="17.4" y2="610.7" stroke="#e04a67" stroke-width="2.32" stroke-linecap="round"/>
<line x1="72.6" y1="598.4" x2="20.0" y2="619.9" stroke="#e8284a" stroke-width="2.32" stroke-linecap="round"/>
<line x1="72.6" y1="598.4" x2="22.9" y2="629.5" stroke="#7080b8" stroke-width="3.625" stroke-linecap="round"/>
<line x1="72.6" y1="598.4" x2="26.6" y2="638.2" stroke="#c4c4c4" stroke-width="3.625" stroke-linecap="round"/>
<line x1="128.6" y1="587.0" x2="92.0" y2="619.0" stroke="#e04a67" stroke-width="2.61" stroke-linecap="round"/>
<line x1="92.0" y1="619.0" x2="31.7" y2="646.4" stroke="#e04a67" stroke-width="2.32" stroke-linecap="round"/>
<line x1="92.0" y1="619.0" x2="36.8" y2="655.2" stroke="#e04a67" stroke-width="2.32" stroke-linecap="round"/>
<line x1="128.6" y1="587.0" x2="98.1" y2="636.2" stroke="#d98a9c" stroke-width="4.6" stroke-linecap="round"/>
<line x1="98.1" y1="636.2" x2="42.9" y2="662.8" stroke="#c4c4c4" stroke-width="2.32" stroke-linecap="round"/>
<line x1="98.1" y1="636.2" x2="50.1" y2="669.9" stroke="#c4c4c4" stroke-width="2.32" stroke-linecap="round"/>
<line x1="98.1" y1="636.2" x2="57.2" y2="675.6" stroke="#e8284a" stroke-width="2.9" stroke-linecap="round"/>
<line x1="98.1" y1="636.2" x2="65.4" y2="681.8" stroke="#d98a9c" stroke-width="2.32" stroke-linecap="round"/>
<line x1="98.1" y1="636.2" x2="73.6" y2="686.7" stroke="#d98a9c" stroke-width="2.32" stroke-linecap="round"/>
<line x1="98.1" y1="636.2" x2="82.8" y2="691.4" stroke="#d98a9c" stroke-width="2.32" stroke-linecap="round"/>
<line x1="98.1" y1="636.2" x2="91.0" y2="695.0" stroke="#d98a9c" stroke-width="2.32" stroke-linecap="round"/>
<line x1="98.1" y1="636.2" x2="100.1" y2="698.1" stroke="#d98a9c" stroke-width="4.0249999999999995" stroke-linecap="round"/>
<line x1="128.6" y1="587.0" x2="152.7" y2="641.9" stroke="#e04a67" stroke-width="3.625" stroke-linecap="round"/>
<line x1="152.7" y1="641.9" x2="194.8" y2="680.0" stroke="#e04a67" stroke-width="2.175" stroke-linecap="round"/>
<line x1="152.7" y1="641.9" x2="186.6" y2="685.1" stroke="#e04a67" stroke-width="2.175" stroke-linecap="round"/>
<line x1="152.7" y1="641.9" x2="177.2" y2="688.6" stroke="#d98a9c" stroke-width="4.06" stroke-linecap="round"/>
<line x1="152.7" y1="641.9" x2="169.1" y2="692.1" stroke="#e04a67" stroke-width="2.175" stroke-linecap="round"/>
<line x1="152.7" y1="641.9" x2="159.7" y2="695.6" stroke="#e04a67" stroke-width="2.175" stroke-linecap="round"/>
<line x1="152.7" y1="641.9" x2="150.4" y2="698.0" stroke="#e04a67" stroke-width="2.175" stroke-linecap="round"/>
<line x1="128.6" y1="587.0" x2="173.7" y2="624.4" stroke="#e04a67" stroke-width="2.9" stroke-linecap="round"/>
<line x1="173.7" y1="624.4" x2="226.3" y2="643.5" stroke="#e04a67" stroke-width="2.175" stroke-linecap="round"/>
<line x1="173.7" y1="624.4" x2="220.9" y2="651.2" stroke="#e04a67" stroke-width="2.175" stroke-linecap="round"/>
<line x1="173.7" y1="624.4" x2="215.3" y2="659.0" stroke="#e04a67" stroke-width="2.175" stroke-linecap="round"/>
<line x1="173.7" y1="624.4" x2="209.2" y2="666.9" stroke="#e04a67" stroke-width="2.175" stroke-linecap="round"/>
<line x1="173.7" y1="624.4" x2="201.8" y2="673.9" stroke="#e04a67" stroke-width="2.175" stroke-linecap="round"/>
<line x1="128.6" y1="587.0" x2="183.1" y2="599.9" stroke="#8e97c0" stroke-width="7.475" stroke-linecap="round"/>
<line x1="183.1" y1="599.9" x2="242.6" y2="586.5" stroke="#7f8cc0" stroke-width="5.175" stroke-linecap="round"/>
<line x1="183.1" y1="599.9" x2="243.8" y2="595.9" stroke="#7f8cc0" stroke-width="5.175" stroke-linecap="round"/>
<line x1="183.1" y1="599.9" x2="241.5" y2="606.2" stroke="#e04a67" stroke-width="3.625" stroke-linecap="round"/>
<line x1="183.1" y1="599.9" x2="238.0" y2="616.2" stroke="#a1a9c6" stroke-width="4.0249999999999995" stroke-linecap="round"/>
<line x1="183.1" y1="599.9" x2="234.5" y2="625.5" stroke="#a1a9c6" stroke-width="2.465" stroke-linecap="round"/>
<line x1="183.1" y1="599.9" x2="231.0" y2="634.9" stroke="#e8284a" stroke-width="2.61" stroke-linecap="round"/>
<line x1="128.6" y1="587.0" x2="110.4" y2="700.6" stroke="#e04a67" stroke-width="2.9" stroke-linecap="round"/>
<line x1="128.6" y1="587.0" x2="120.6" y2="700.6" stroke="#d98a9c" stroke-width="2.9" stroke-linecap="round"/>
<line x1="128.6" y1="587.0" x2="130.8" y2="700.6" stroke="#e04a67" stroke-width="2.9" stroke-linecap="round"/>
<line x1="128.6" y1="587.0" x2="139.9" y2="701.5" stroke="#e04a67" stroke-width="2.9" stroke-linecap="round"/>
<line x1="128.6" y1="587.0" x2="142.2" y2="475.5" stroke="#a1a9c6" stroke-width="2.32" stroke-linecap="round"/>
<line x1="128.6" y1="587.0" x2="152.7" y2="476.2" stroke="#e04a67" stroke-width="2.32" stroke-linecap="round"/>
<line x1="128.6" y1="587.0" x2="162.0" y2="479.5" stroke="#e2a9b5" stroke-width="2.32" stroke-linecap="round"/>
<line x1="128.6" y1="587.0" x2="170.9" y2="482.5" stroke="#e04a67" stroke-width="2.175" stroke-linecap="round"/>
<line x1="128.6" y1="587.0" x2="180.3" y2="486.5" stroke="#e04a67" stroke-width="2.175" stroke-linecap="round"/>
<line x1="128.6" y1="587.0" x2="188.9" y2="491.2" stroke="#e2a9b5" stroke-width="2.175" stroke-linecap="round"/>
<line x1="128.6" y1="587.0" x2="196.6" y2="496.5" stroke="#cc2444" stroke-width="2.61" stroke-linecap="round"/>
<line x1="128.6" y1="587.0" x2="204.6" y2="502.8" stroke="#e8284a" stroke-width="3.19" stroke-linecap="round"/>
<line x1="128.6" y1="587.0" x2="211.1" y2="509.8" stroke="#cc2444" stroke-width="2.61" stroke-linecap="round"/>
<line x1="128.6" y1="587.0" x2="217.6" y2="516.9" stroke="#e04a67" stroke-width="2.175" stroke-linecap="round"/>
<line x1="128.6" y1="587.0" x2="222.8" y2="525.7" stroke="#a1a9c6" stroke-width="2.465" stroke-linecap="round"/>
<line x1="128.6" y1="587.0" x2="227.9" y2="533.9" stroke="#d98a9c" stroke-width="2.61" stroke-linecap="round"/>
<line x1="128.6" y1="587.0" x2="232.6" y2="542.6" stroke="#7080b8" stroke-width="2.465" stroke-linecap="round"/>
<line x1="128.6" y1="587.0" x2="236.3" y2="551.4" stroke="#e04a67" stroke-width="2.61" stroke-linecap="round"/>
<line x1="128.6" y1="587.0" x2="239.1" y2="560.8" stroke="#cc2444" stroke-width="2.465" stroke-linecap="round"/>
<line x1="128.6" y1="587.0" x2="241.0" y2="570.6" stroke="#d98a9c" stroke-width="2.61" stroke-linecap="round"/>
<line x1="128.6" y1="587.0" x2="241.9" y2="579.9" stroke="#c4c4c4" stroke-width="2.465" stroke-linecap="round"/>
<circle cx="176.1" cy="556.1" r="2.5" fill="#a1a9c6"/>
<circle cx="178.5" cy="560.8" r="2.0" fill="#d98a9c"/>
<circle cx="181.2" cy="565.4" r="2.5" fill="#7080b8"/>
<circle cx="184.0" cy="572.5" r="2.0" fill="#d98a9c"/>
<circle cx="185.4" cy="584.1" r="2.2" fill="#c4c4c4"/>
<circle cx="132.8" cy="473.6" r="2.16" fill="#e04a67"/>
<circle cx="122.6" cy="474.2" r="2.16" fill="#e04a67"/>
<circle cx="113.4" cy="475.2" r="2.16" fill="#e04a67"/>
<circle cx="103.2" cy="476.2" r="2.16" fill="#e04a67"/>
<circle cx="94.0" cy="478.3" r="2.16" fill="#e04a67"/>
<circle cx="85.8" cy="481.8" r="2.16" fill="#e04a67"/>
<circle cx="76.6" cy="486.5" r="2.16" fill="#e04a67"/>
<circle cx="67.4" cy="491.6" r="2.16" fill="#e04a67"/>
<circle cx="59.3" cy="496.7" r="2.16" fill="#e04a67"/>
<circle cx="52.1" cy="502.8" r="2.16" fill="#e04a67"/>
<circle cx="45.0" cy="511.0" r="2.16" fill="#e04a67"/>
<circle cx="38.8" cy="518.5" r="2.16" fill="#d98a9c"/>
<circle cx="32.7" cy="525.9" r="2.16" fill="#e04a67"/>
<circle cx="28.2" cy="534.5" r="2.64" fill="#a1a9c6"/>
<circle cx="80.7" cy="557.0" r="1.8" fill="#d98a9c"/>
<circle cx="24.1" cy="543.7" r="2.64" fill="#e2a9b5"/>
<circle cx="20.4" cy="552.9" r="2.64" fill="#d98a9c"/>
<circle cx="18.0" cy="562.1" r="2.64" fill="#e04a67"/>
<circle cx="16.4" cy="571.7" r="2.64" fill="#e2a9b5"/>
<circle cx="15.3" cy="581.5" r="2.4" fill="#d98a9c"/>
<circle cx="73.6" cy="571.7" r="1.8" fill="#d98a9c"/>
<circle cx="15.3" cy="591.2" r="2.4" fill="#d98a9c"/>
<circle cx="15.9" cy="600.4" r="2.4" fill="#d98a9c"/>
<circle cx="17.4" cy="610.7" r="2.16" fill="#e04a67"/>
<circle cx="20.0" cy="619.9" r="2.64" fill="#e8284a"/>
<circle cx="22.9" cy="629.5" r="3.5999999999999996" fill="#7080b8"/>
<circle cx="26.6" cy="638.2" r="3.5999999999999996" fill="#c4c4c4"/>
<circle cx="72.6" cy="598.4" r="3.0" fill="#a1a9c6"/>
<circle cx="31.7" cy="646.4" r="2.4" fill="#e04a67"/>
<circle cx="36.8" cy="655.2" r="2.4" fill="#e04a67"/>
<circle cx="42.9" cy="662.8" r="2.64" fill="#c4c4c4"/>
<circle cx="50.1" cy="669.9" r="2.64" fill="#c4c4c4"/>
<circle cx="57.2" cy="675.6" r="2.4" fill="#e8284a"/>
<circle cx="65.4" cy="681.8" r="2.64" fill="#d98a9c"/>
<circle cx="73.6" cy="686.7" r="2.64" fill="#d98a9c"/>
<circle cx="82.8" cy="691.4" r="2.64" fill="#d98a9c"/>
<circle cx="91.0" cy="695.0" r="2.4" fill="#d98a9c"/>
<circle cx="100.1" cy="698.1" r="4.2" fill="#d98a9c"/>
<circle cx="194.8" cy="680.0" r="2.16" fill="#e04a67"/>
<circle cx="186.6" cy="685.1" r="2.16" fill="#e04a67"/>
<circle cx="177.2" cy="688.6" r="3.0" fill="#d98a9c"/>
<circle cx="169.1" cy="692.1" r="2.16" fill="#e04a67"/>
<circle cx="159.7" cy="695.6" r="2.16" fill="#e04a67"/>
<circle cx="150.4" cy="698.0" r="2.16" fill="#e04a67"/>
<circle cx="226.3" cy="643.5" r="2.16" fill="#e04a67"/>
<circle cx="220.9" cy="651.2" r="2.16" fill="#e04a67"/>
<circle cx="215.3" cy="659.0" r="2.16" fill="#e04a67"/>
<circle cx="209.2" cy="666.9" r="2.16" fill="#e04a67"/>
<circle cx="201.8" cy="673.9" r="2.16" fill="#e04a67"/>
<circle cx="242.6" cy="586.5" r="5.04" fill="#7f8cc0"/>
<circle cx="243.8" cy="595.9" r="5.3999999999999995" fill="#7f8cc0"/>
<circle cx="241.5" cy="606.2" r="3.5999999999999996" fill="#e04a67"/>
<circle cx="238.0" cy="616.2" r="4.2" fill="#a1a9c6"/>
<circle cx="234.5" cy="625.5" r="2.4" fill="#a1a9c6"/>
<circle cx="231.0" cy="634.9" r="2.4" fill="#e8284a"/>
<circle cx="183.1" cy="599.9" r="6.5" fill="#8e97c0"/>
<circle cx="110.4" cy="700.6" r="2.16" fill="#e04a67"/>
<circle cx="120.6" cy="700.6" r="2.16" fill="#d98a9c"/>
<circle cx="130.8" cy="700.6" r="2.16" fill="#e04a67"/>
<circle cx="139.9" cy="701.5" r="2.16" fill="#e04a67"/>
<circle cx="142.2" cy="475.5" r="2.16" fill="#a1a9c6"/>
<circle cx="152.7" cy="476.2" r="2.16" fill="#e04a67"/>
<circle cx="162.0" cy="479.5" r="2.16" fill="#e2a9b5"/>
<circle cx="170.9" cy="482.5" r="2.16" fill="#e04a67"/>
<circle cx="180.3" cy="486.5" r="2.16" fill="#e04a67"/>
<circle cx="188.9" cy="491.2" r="2.16" fill="#e2a9b5"/>
<circle cx="196.6" cy="496.5" r="2.4" fill="#cc2444"/>
<circle cx="204.6" cy="502.8" r="2.4" fill="#e8284a"/>
<circle cx="211.1" cy="509.8" r="2.4" fill="#cc2444"/>
<circle cx="217.6" cy="516.9" r="2.16" fill="#e04a67"/>
<circle cx="222.8" cy="525.7" r="2.64" fill="#a1a9c6"/>
<circle cx="227.9" cy="533.9" r="2.64" fill="#d98a9c"/>
<circle cx="232.6" cy="542.6" r="2.64" fill="#7080b8"/>
<circle cx="236.3" cy="551.4" r="2.4" fill="#e04a67"/>
<circle cx="239.1" cy="560.8" r="2.4" fill="#cc2444"/>
<circle cx="241.0" cy="570.6" r="2.64" fill="#d98a9c"/>
<circle cx="241.9" cy="579.9" r="2.4" fill="#c4c4c4"/>
<circle cx="128.6" cy="587.0" r="7.8" fill="#c4c4c4"/>
<text x="102.2" y="475.1" font-size="6.16" text-anchor="start" font-weight="normal" font-style="normal" fill="#111" textLength="32.7" lengthAdjust="spacingAndGlyphs" stroke="#111" stroke-width="0.18">Anaerolineae</text>
<text x="85.4" y="480.2" font-size="6.16" text-anchor="start" font-weight="normal" font-style="normal" fill="#111" textLength="30.1" lengthAdjust="spacingAndGlyphs" stroke="#111" stroke-width="0.18">Thermoflexia</text>
<text x="59.7" y="484.3" font-size="6.16" text-anchor="start" font-weight="normal" font-style="normal" fill="#111" textLength="60.9" lengthAdjust="spacingAndGlyphs" stroke="#111" stroke-width="0.18">Chloroflexi_incertae_sedis</text>
<text x="61.3" y="489.0" font-size="6.16" text-anchor="start" font-weight="normal" font-style="normal" fill="#111" textLength="28.6" lengthAdjust="spacingAndGlyphs" stroke="#111" stroke-width="0.18">Chloroflexia</text>
<text x="50.7" y="493.9" font-size="6.16" text-anchor="start" font-weight="normal" font-style="normal" fill="#111" textLength="33.5" lengthAdjust="spacingAndGlyphs" stroke="#111" stroke-width="0.18">Ardenticatenia</text>
<text x="40.5" y="499.2" font-size="6.16" text-anchor="start" font-weight="normal" font-style="normal" fill="#111" textLength="38.2" lengthAdjust="spacingAndGlyphs" stroke="#111" stroke-width="0.18">Thermomicrobia</text>
<text x="38.4" y="505.3" font-size="6.16" text-anchor="start" font-weight="normal" font-style="normal" fill="#111" textLength="27.4" lengthAdjust="spacingAndGlyphs" stroke="#111" stroke-width="0.18">Tepidiformia</text>
<text x="31.7" y="512.9" font-size="6.16" text-anchor="start" font-weight="normal" font-style="normal" fill="#111" textLength="26.5" lengthAdjust="spacingAndGlyphs" stroke="#111" stroke-width="0.18">Caldilineae</text>
<text x="10.2" y="527.8" font-size="6.16" text-anchor="start" font-weight="normal" font-style="normal" fill="#111" textLength="46.6" lengthAdjust="spacingAndGlyphs" stroke="#111" stroke-width="0.18">Chthonomonadetes</text>
<text x="92.4" y="537.7" font-size="6.944000000000001" text-anchor="start" font-weight="normal" font-style="normal" fill="#111" textLength="28.6" lengthAdjust="spacingAndGlyphs" stroke="#111" stroke-width="0.18">Chloroflexi</text>
<text x="141.0" y="477.3" font-size="5.824000000000001" text-anchor="start" font-weight="normal" font-style="normal" fill="#111" textLength="23.4" lengthAdjust="spacingAndGlyphs" stroke="#111" stroke-width="0.18">Nitrospinia</text>
<text x="155.0" y="483.6" font-size="5.824000000000001" text-anchor="start" font-weight="normal" font-style="normal" fill="#111" textLength="31.6" lengthAdjust="spacingAndGlyphs" stroke="#111" stroke-width="0.18">Endomicrobia</text>
<text x="164.4" y="488.3" font-size="5.824000000000001" text-anchor="start" font-weight="normal" font-style="normal" fill="#111" textLength="31.5" lengthAdjust="spacingAndGlyphs" stroke="#111" stroke-width="0.18">Elusimicrobia</text>
<text x="153.9" y="493.0" font-size="5.824000000000001" text-anchor="start" font-weight="normal" font-style="normal" fill="#111" textLength="70.7" lengthAdjust="spacingAndGlyphs" stroke="#111" stroke-width="0.18">Calditrichaeota_incertae_sedis</text>
<text x="184.2" y="498.3" font-size="5.824000000000001" text-anchor="start" font-weight="normal" font-style="normal" fill="#111" textLength="25.0" lengthAdjust="spacingAndGlyphs" stroke="#111" stroke-width="0.18">Calditrichia</text>
<text x="176.1" y="504.6" font-size="5.824000000000001" text-anchor="start" font-weight="normal" font-style="normal" fill="#111" textLength="56.0" lengthAdjust="spacingAndGlyphs" stroke="#111" stroke-width="0.18">Thermodesulfobacteria</text>
<text x="195.9" y="511.6" font-size="5.824000000000001" text-anchor="start" font-weight="normal" font-style="normal" fill="#111" textLength="31.1" lengthAdjust="spacingAndGlyphs" stroke="#111" stroke-width="0.18">Fibrobacteria</text>
<text x="202.9" y="518.7" font-size="5.824000000000001" text-anchor="start" font-weight="normal" font-style="normal" fill="#111" textLength="29.7" lengthAdjust="spacingAndGlyphs" stroke="#111" stroke-width="0.18">Chitinispirillia</text>
<text x="220.0" y="553.7" font-size="5.824000000000001" text-anchor="start" font-weight="normal" font-style="normal" fill="#111" textLength="32.0" lengthAdjust="spacingAndGlyphs" stroke="#111" stroke-width="0.18">Ignavibacteria</text>
<text x="224.0" y="562.6" font-size="5.824000000000001" text-anchor="start" font-weight="normal" font-style="normal" fill="#111" textLength="30.3" lengthAdjust="spacingAndGlyphs" stroke="#111" stroke-width="0.18">Thermotogae</text>
<text x="125.8" y="532.7" font-size="5.824000000000001" text-anchor="start" font-weight="normal" font-style="normal" fill="#111" textLength="25.7" lengthAdjust="spacingAndGlyphs" stroke="#111" stroke-width="0.18">Nitrospinae</text>
<text x="137.5" y="537.3" font-size="5.824000000000001" text-anchor="start" font-weight="normal" font-style="normal" fill="#111" textLength="31.1" lengthAdjust="spacingAndGlyphs" stroke="#111" stroke-width="0.18">Elusimicrobia</text>
<text x="143.4" y="542.7" font-size="5.824000000000001" text-anchor="start" font-weight="normal" font-style="normal" fill="#111" textLength="35.0" lengthAdjust="spacingAndGlyphs" stroke="#111" stroke-width="0.18">Calditrichaeota</text>
<text x="139.9" y="548.1" font-size="5.824000000000001" text-anchor="start" font-weight="normal" font-style="normal" fill="#111" textLength="55.3" lengthAdjust="spacingAndGlyphs" stroke="#111" stroke-width="0.18">Thermodesulfobacteria</text>
<text x="156.2" y="553.7" font-size="5.824000000000001" text-anchor="start" font-weight="normal" font-style="normal" fill="#111" textLength="32.7" lengthAdjust="spacingAndGlyphs" stroke="#111" stroke-width="0.18">Fibrobacteres</text>
<text x="165.5" y="570.8" font-size="5.824000000000001" text-anchor="start" font-weight="normal" font-style="normal" fill="#111" textLength="33.9" lengthAdjust="spacingAndGlyphs" stroke="#111" stroke-width="0.18">Ignavibacteriae</text>
<text x="169.1" y="575.4" font-size="5.824000000000001" text-anchor="start" font-weight="normal" font-style="normal" fill="#111" textLength="29.9" lengthAdjust="spacingAndGlyphs" stroke="#111" stroke-width="0.18">Thermotogae</text>
<text x="52.7" y="601.9" font-size="7.875" text-anchor="start" font-weight="normal" font-style="normal" fill="#111" textLength="40.3" lengthAdjust="spacingAndGlyphs" stroke="#111" stroke-width="0.3">Bacteroidota</text>
<text x="3.1" y="612.1" font-size="6.16" text-anchor="start" font-weight="normal" font-style="normal" fill="#111" textLength="29.2" lengthAdjust="spacingAndGlyphs" stroke="#111" stroke-width="0.18">Cytophagia</text>
<text x="1.0" y="630.9" font-size="6.16" text-anchor="start" font-weight="normal" font-style="normal" fill="#111" textLength="44.4" lengthAdjust="spacingAndGlyphs" stroke="#111" stroke-width="0.18">Sphingobacteriia</text>
<text x="68.5" y="620.7" font-size="6.16" text-anchor="start" font-weight="normal" font-style="normal" fill="#111" textLength="25.9" lengthAdjust="spacingAndGlyphs" stroke="#111" stroke-width="0.18">Nitrospirae</text>
<text x="3.1" y="648.9" font-size="6.16" text-anchor="start" font-weight="normal" font-style="normal" fill="#111" textLength="57.2" lengthAdjust="spacingAndGlyphs" stroke="#111" stroke-width="0.18">Thermodesulfovibrionia</text>
<text x="26.2" y="656.3" font-size="5.6000000000000005" text-anchor="start" font-weight="normal" font-style="normal" fill="#111" textLength="22.4" lengthAdjust="spacingAndGlyphs" stroke="#111" stroke-width="0.18">Nitrospira</text>
<text x="33.7" y="677.5" font-size="6.16" text-anchor="start" font-weight="normal" font-style="normal" fill="#111" textLength="47.0" lengthAdjust="spacingAndGlyphs" stroke="#111" stroke-width="0.18">Thermolithobacteria</text>
<text x="59.7" y="699.8" font-size="5.6000000000000005" text-anchor="start" font-weight="normal" font-style="normal" fill="#111" textLength="32.3" lengthAdjust="spacingAndGlyphs" stroke="#111" stroke-width="0.18">Longimicrobia</text>
<text x="87.5" y="695.3" font-size="8.925" text-anchor="start" font-weight="normal" font-style="normal" fill="#111" textLength="20.8" lengthAdjust="spacingAndGlyphs" stroke="#111" stroke-width="0.3">Bacilli</text>
<text x="92.0" y="703.3" font-size="5.6000000000000005" text-anchor="start" font-weight="normal" font-style="normal" fill="#111" textLength="48.0" lengthAdjust="spacingAndGlyphs" stroke="#111" stroke-width="0.18">Gemmatimonadetes</text>
<text x="78.7" y="638.5" font-size="8.925" text-anchor="start" font-weight="normal" font-style="normal" fill="#111" textLength="40.2" lengthAdjust="spacingAndGlyphs" stroke="#111" stroke-width="0.3">Firmicutes</text>
<text x="80.7" y="644.2" font-size="6.16" text-anchor="start" font-weight="normal" font-style="normal" fill="#111" textLength="50.1" lengthAdjust="spacingAndGlyphs" stroke="#111" stroke-width="0.18">Gemmatimonadetes</text>
<text x="209.2" y="589.5" font-size="7.875" text-anchor="start" font-weight="normal" font-style="normal" fill="#111" textLength="65.4" lengthAdjust="spacingAndGlyphs" stroke="#111" stroke-width="0.3">Betaproteobacteria</text>
<text x="203.6" y="599.1" font-size="8.4" text-anchor="start" font-weight="normal" font-style="normal" fill="#111" textLength="76.4" lengthAdjust="spacingAndGlyphs" stroke="#111" stroke-width="0.3">Alphaproteobacteria</text>
<text x="139.2" y="604.3" font-size="11.025" text-anchor="start" font-weight="normal" font-style="normal" fill="#111" textLength="69.6" lengthAdjust="spacingAndGlyphs" stroke="#111" stroke-width="0.3">Proteobacteria</text>
<text x="213.0" y="610.0" font-size="7.6160000000000005" text-anchor="start" font-weight="normal" font-style="normal" fill="#111" textLength="60.7" lengthAdjust="spacingAndGlyphs" stroke="#111" stroke-width="0.18">Deltaproteobacteria</text>
<text x="202.2" y="618.6" font-size="7.5600000000000005" text-anchor="start" font-weight="normal" font-style="normal" fill="#111" textLength="72.0" lengthAdjust="spacingAndGlyphs" stroke="#111" stroke-width="0.3">Gammaproteobacteria</text>
<text x="222.8" y="628.0" font-size="5.6000000000000005" text-anchor="start" font-weight="normal" font-style="normal" fill="#111" textLength="25.2" lengthAdjust="spacingAndGlyphs" stroke="#111" stroke-width="0.18">Oligoflexia</text>
<text x="211.1" y="636.6" font-size="5.6000000000000005" text-anchor="start" font-weight="normal" font-style="normal" fill="#111" textLength="41.6" lengthAdjust="spacingAndGlyphs" stroke="#111" stroke-width="0.18">Hydrogenophilalia</text>
<text x="153.2" y="626.1" font-size="7.056" text-anchor="start" font-weight="normal" font-style="normal" fill="#111" textLength="38.0" lengthAdjust="spacingAndGlyphs" stroke="#111" stroke-width="0.18">Acidobacteria</text>
<text x="206.9" y="645.2" font-size="5.6000000000000005" text-anchor="start" font-weight="normal" font-style="normal" fill="#111" textLength="40.4" lengthAdjust="spacingAndGlyphs" stroke="#111" stroke-width="0.18">Vicinamibacteria</text>
<text x="202.9" y="654.0" font-size="6.720000000000001" text-anchor="start" font-weight="normal" font-style="normal" fill="#111" textLength="38.1" lengthAdjust="spacingAndGlyphs" stroke="#111" stroke-width="0.18">Acidobacteriia</text>
<text x="199.0" y="661.7" font-size="5.824000000000001" text-anchor="start" font-weight="normal" font-style="normal" fill="#111" textLength="34.3" lengthAdjust="spacingAndGlyphs" stroke="#111" stroke-width="0.18">Blastocatellia</text>
<text x="184.9" y="667.1" font-size="5.824000000000001" text-anchor="start" font-weight="normal" font-style="normal" fill="#111" textLength="51.9" lengthAdjust="spacingAndGlyphs" stroke="#111" stroke-width="0.18">Thermoanaerobaculia</text>
<text x="190.5" y="671.7" font-size="5.824000000000001" text-anchor="start" font-weight="normal" font-style="normal" fill="#111" textLength="28.8" lengthAdjust="spacingAndGlyphs" stroke="#111" stroke-width="0.18">Holophagae</text>
<text x="180.7" y="677.1" font-size="5.824000000000001" text-anchor="start" font-weight="normal" font-style="normal" fill="#111" textLength="35.1" lengthAdjust="spacingAndGlyphs" stroke="#111" stroke-width="0.18">Rubrobacteria</text>
<text x="171.9" y="681.8" font-size="5.824000000000001" text-anchor="start" font-weight="normal" font-style="normal" fill="#111" textLength="39.2" lengthAdjust="spacingAndGlyphs" stroke="#111" stroke-width="0.18">Thermoleophilia</text>
<text x="171.4" y="687.2" font-size="6.720000000000001" text-anchor="start" font-weight="normal" font-style="normal" fill="#111" textLength="34.6" lengthAdjust="spacingAndGlyphs" stroke="#111" stroke-width="0.18">Acidimicrobiia</text>
<text x="139.9" y="691.6" font-size="5.824000000000001" text-anchor="start" font-weight="normal" font-style="normal" fill="#111" textLength="33.8" lengthAdjust="spacingAndGlyphs" stroke="#111" stroke-width="0.18">Coriobacteriia</text>
<text x="152.7" y="696.2" font-size="5.6000000000000005" text-anchor="start" font-weight="normal" font-style="normal" fill="#111" textLength="29.9" lengthAdjust="spacingAndGlyphs" stroke="#111" stroke-width="0.18">Nitriliruptoria</text>
<text x="142.2" y="701.9" font-size="7.280000000000001" text-anchor="start" font-weight="normal" font-style="normal" fill="#111" textLength="41.3" lengthAdjust="spacingAndGlyphs" stroke="#111" stroke-width="0.18">Planctomycetia</text>
<text x="131.7" y="641.0" font-size="7.9799999999999995" text-anchor="start" font-weight="normal" font-style="normal" fill="#111" textLength="48.6" lengthAdjust="spacingAndGlyphs" stroke="#111" stroke-width="0.3">Actinobacteria</text>
<text x="121.2" y="648.9" font-size="7.280000000000001" text-anchor="start" font-weight="normal" font-style="normal" fill="#111" textLength="45.1" lengthAdjust="spacingAndGlyphs" stroke="#111" stroke-width="0.18">Planctomycetota</text>
<text x="18.0" y="488.0" font-size="21" text-anchor="start" font-weight="normal" font-style="normal" fill="#000" >c)</text>
</svg></body></html>
